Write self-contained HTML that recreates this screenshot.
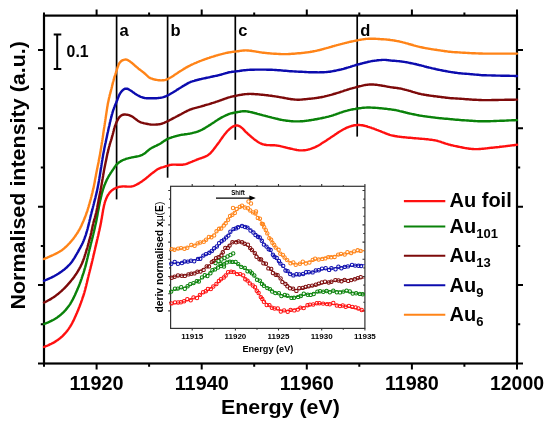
<!DOCTYPE html><html><head><meta charset="utf-8"><style>html,body{margin:0;padding:0;background:#fff;width:550px;height:422px;overflow:hidden}svg{display:block;will-change:transform}text{font-family:"Liberation Sans",sans-serif;font-weight:bold;fill:#000}</style></head><body>
<svg width="550" height="422" viewBox="0 0 550 422">
<rect x="44.0" y="15.6" width="473.0" height="347.9" fill="none" stroke="#000" stroke-width="2.2"/>
<path d="M44.0,363.5V366.7 M44.0,15.6V12.4 M96.6,363.5V369.5 M96.6,15.6V9.6 M149.1,363.5V366.7 M149.1,15.6V12.4 M201.7,363.5V369.5 M201.7,15.6V9.6 M254.2,363.5V366.7 M254.2,15.6V12.4 M306.8,363.5V369.5 M306.8,15.6V9.6 M359.3,363.5V366.7 M359.3,15.6V12.4 M411.9,363.5V369.5 M411.9,15.6V9.6 M464.4,363.5V366.7 M464.4,15.6V12.4 M517.0,363.5V369.5 M517.0,15.6V9.6 M44.0,363.5H38.0 M517.0,363.5H523.0 M44.0,324.3H40.8 M517.0,324.3H520.2 M44.0,285.1H38.0 M517.0,285.1H523.0 M44.0,245.9H40.8 M517.0,245.9H520.2 M44.0,206.7H38.0 M517.0,206.7H523.0 M44.0,167.5H40.8 M517.0,167.5H520.2 M44.0,128.3H38.0 M517.0,128.3H523.0 M44.0,89.1H40.8 M517.0,89.1H520.2 M44.0,49.9H38.0 M517.0,49.9H523.0" stroke="#000" stroke-width="2" fill="none"/>
<text x="96.6" y="389.8" font-size="19.6" text-anchor="middle" textLength="54" lengthAdjust="spacingAndGlyphs">11920</text>
<text x="201.7" y="389.8" font-size="19.6" text-anchor="middle" textLength="54" lengthAdjust="spacingAndGlyphs">11940</text>
<text x="306.8" y="389.8" font-size="19.6" text-anchor="middle" textLength="54" lengthAdjust="spacingAndGlyphs">11960</text>
<text x="411.9" y="389.8" font-size="19.6" text-anchor="middle" textLength="54" lengthAdjust="spacingAndGlyphs">11980</text>
<text x="517.0" y="389.8" font-size="19.6" text-anchor="middle" textLength="54" lengthAdjust="spacingAndGlyphs">12000</text>
<text x="280.4" y="414.2" font-size="20.6" text-anchor="middle" textLength="119" lengthAdjust="spacingAndGlyphs">Energy (eV)</text>
<text transform="translate(25.2,175.3) rotate(-90)" font-size="20.8" text-anchor="middle" textLength="268.5" lengthAdjust="spacingAndGlyphs">Normalised intensity (a.u.)</text>
<path d="M116.6,15.6V199.4" stroke="#000" stroke-width="1.7"/>
<text x="119.6" y="35.5" font-size="16.5">a</text>
<path d="M167.6,15.6V177.7" stroke="#000" stroke-width="1.7"/>
<text x="170.6" y="35.5" font-size="16.5">b</text>
<path d="M235.3,15.6V139.8" stroke="#000" stroke-width="1.7"/>
<text x="238.3" y="35.5" font-size="16.5">c</text>
<path d="M357.2,15.6V136.6" stroke="#000" stroke-width="1.7"/>
<text x="360.2" y="35.5" font-size="16.5">d</text>
<path d="M57.2,34.5V69 M53.7,34.5H61.3 M53.7,69H61.3" stroke="#000" stroke-width="2" fill="none"/>
<text x="66.6" y="57.2" font-size="17" textLength="22" lengthAdjust="spacingAndGlyphs">0.1</text>
<path d="M44.0,347.0 44.9,346.6 45.8,346.2 46.8,345.9 47.7,345.5 48.6,345.1 49.5,344.6 50.4,344.2 51.3,343.8 52.2,343.3 53.1,342.9 54.0,342.4 54.8,341.9 55.7,341.4 56.5,340.8 57.3,340.3 58.1,339.7 58.9,339.1 59.7,338.5 60.5,337.9 61.2,337.2 62.0,336.6 62.7,335.9 63.4,335.2 64.1,334.4 64.8,333.7 65.4,333.0 66.1,332.2 66.7,331.4 67.3,330.7 67.9,329.9 68.5,329.1 69.1,328.2 69.6,327.4 70.2,326.6 70.7,325.7 71.2,324.9 71.7,324.0 72.2,323.1 72.6,322.2 73.1,321.4 73.5,320.5 74.0,319.6 74.4,318.6 74.8,317.7 75.2,316.8 75.6,315.9 76.0,315.0 76.4,314.1 76.8,313.2 77.2,312.2 77.6,311.3 78.0,310.4 78.4,309.5 78.7,308.5 79.1,307.6 79.5,306.7 79.8,305.8 80.2,304.8 80.5,303.9 80.9,302.9 81.2,302.0 81.5,301.1 81.9,300.1 82.2,299.2 82.5,298.2 82.8,297.3 83.2,296.3 83.5,295.4 83.8,294.4 84.1,293.5 84.4,292.5 84.6,291.6 84.9,290.6 85.2,289.6 85.4,288.7 85.7,287.7 85.9,286.7 86.2,285.8 86.4,284.8 86.6,283.8 86.9,282.8 87.1,281.9 87.3,280.9 87.6,279.9 87.8,278.9 88.0,278.0 88.3,277.0 88.5,276.0 88.7,275.1 89.0,274.1 89.2,273.1 89.5,272.1 89.7,271.2 90.0,270.2 90.2,269.2 90.5,268.3 90.7,267.3 90.9,266.3 91.2,265.4 91.4,264.4 91.7,263.4 91.9,262.4 92.1,261.5 92.4,260.5 92.6,259.5 92.8,258.6 93.1,257.6 93.3,256.6 93.5,255.6 93.7,254.7 94.0,253.7 94.2,252.7 94.4,251.7 94.6,250.8 94.9,249.8 95.1,248.8 95.3,247.8 95.5,246.9 95.8,245.9 96.0,244.9 96.2,243.9 96.5,243.0 96.7,242.0 96.9,241.0 97.1,240.0 97.4,239.1 97.6,238.1 97.8,237.1 98.1,236.1 98.3,235.2 98.5,234.2 98.7,233.2 98.9,232.2 99.1,231.3 99.4,230.3 99.6,229.3 99.8,228.3 100.0,227.4 100.2,226.4 100.4,225.4 100.6,224.4 100.8,223.4 101.0,222.5 101.2,221.5 101.3,220.5 101.5,219.5 101.7,218.5 101.9,217.5 102.0,216.5 102.2,215.6 102.4,214.6 102.5,213.6 102.7,212.6 102.9,211.6 103.0,210.6 103.2,209.6 103.4,208.7 103.6,207.7 103.8,206.7 104.0,205.7 104.2,204.8 104.5,203.8 104.7,202.8 105.0,201.9 105.3,200.9 105.7,200.0 106.0,199.1 106.4,198.2 106.8,197.3 107.2,196.4 107.7,195.5 108.2,194.7 108.8,193.9 109.3,193.1 109.9,192.3 110.6,191.6 111.3,190.9 112.0,190.3 112.8,189.7 113.6,189.1 114.5,188.7 115.4,188.2 116.3,187.8 117.2,187.5 118.2,187.2 119.1,186.9 120.1,186.7 121.1,186.6 122.1,186.5 123.1,186.4 124.1,186.4 125.1,186.5 126.1,186.5 127.1,186.6 128.1,186.6 129.1,186.6 130.1,186.6 131.1,186.5 132.0,186.3 133.0,186.1 133.9,185.8 134.9,185.4 135.8,185.0 136.7,184.6 137.5,184.1 138.4,183.6 139.3,183.1 140.1,182.6 141.0,182.0 141.8,181.5 142.6,180.9 143.4,180.3 144.2,179.7 145.0,179.1 145.8,178.5 146.6,177.8 147.3,177.2 148.1,176.6 148.9,175.9 149.7,175.3 150.4,174.7 151.2,174.0 152.0,173.4 152.8,172.8 153.6,172.2 154.4,171.6 155.2,171.0 156.0,170.4 156.8,169.8 157.6,169.3 158.5,168.8 159.4,168.4 160.3,168.0 161.2,167.7 162.2,167.4 163.2,167.1 164.1,166.8 165.1,166.5 166.0,166.2 167.0,165.9 167.9,165.6 168.9,165.3 169.8,165.0 170.8,164.9 171.8,164.7 172.8,164.6 173.8,164.6 174.8,164.6 175.8,164.6 176.8,164.7 177.8,164.7 178.8,164.8 179.8,164.8 180.8,164.8 181.8,164.8 182.8,164.7 183.7,164.5 184.7,164.4 185.7,164.1 186.6,163.8 187.6,163.5 188.5,163.1 189.4,162.7 190.3,162.4 191.2,162.0 192.2,161.6 193.1,161.2 194.0,160.9 194.9,160.5 195.9,160.1 196.8,159.7 197.7,159.3 198.6,159.0 199.6,158.6 200.5,158.3 201.5,158.0 202.4,157.7 203.4,157.3 204.3,157.0 205.2,156.6 206.1,156.2 207.0,155.7 207.8,155.2 208.6,154.6 209.4,154.0 210.2,153.3 210.9,152.6 211.6,151.9 212.2,151.1 212.9,150.4 213.5,149.6 214.1,148.8 214.7,148.0 215.3,147.2 215.9,146.4 216.5,145.6 217.1,144.8 217.7,144.0 218.3,143.2 218.9,142.4 219.5,141.6 220.0,140.8 220.6,139.9 221.2,139.1 221.8,138.3 222.3,137.5 222.9,136.7 223.5,135.9 224.1,135.1 224.7,134.3 225.4,133.5 226.0,132.7 226.6,132.0 227.3,131.2 228.0,130.5 228.7,129.8 229.4,129.1 230.2,128.5 231.0,127.8 231.8,127.3 232.6,126.7 233.5,126.3 234.4,125.9 235.3,125.6 236.2,125.4 237.2,125.5 238.1,125.7 239.0,126.0 239.9,126.4 240.7,127.0 241.5,127.6 242.2,128.2 243.0,128.9 243.7,129.6 244.4,130.4 245.0,131.1 245.7,131.8 246.5,132.5 247.2,133.2 247.9,133.9 248.6,134.5 249.4,135.2 250.2,135.9 250.9,136.5 251.7,137.2 252.4,137.8 253.2,138.4 254.0,139.1 254.8,139.7 255.6,140.3 256.4,140.8 257.2,141.4 258.1,142.0 258.9,142.5 259.8,143.0 260.7,143.4 261.6,143.8 262.5,144.2 263.5,144.4 264.4,144.7 265.4,144.8 266.4,145.0 267.4,145.1 268.4,145.1 269.4,145.1 270.4,145.2 271.4,145.2 272.4,145.2 273.4,145.2 274.4,145.3 275.4,145.4 276.4,145.5 277.4,145.6 278.4,145.8 279.3,145.9 280.3,146.1 281.3,146.4 282.3,146.6 283.2,146.8 284.2,147.1 285.2,147.3 286.1,147.6 287.1,147.8 288.1,148.1 289.1,148.3 290.0,148.5 291.0,148.7 292.0,148.9 293.0,149.2 293.9,149.4 294.9,149.6 295.9,149.8 296.9,150.0 297.9,150.1 298.9,150.3 299.9,150.4 300.8,150.4 301.8,150.4 302.8,150.4 303.8,150.3 304.8,150.2 305.8,150.1 306.8,149.9 307.8,149.7 308.7,149.4 309.7,149.2 310.7,148.9 311.6,148.5 312.5,148.2 313.5,147.8 314.4,147.5 315.3,147.1 316.2,146.6 317.1,146.2 318.0,145.7 318.9,145.2 319.7,144.7 320.6,144.2 321.4,143.6 322.2,143.1 323.1,142.5 323.9,142.0 324.8,141.4 325.6,140.9 326.4,140.4 327.3,139.8 328.1,139.3 328.9,138.7 329.8,138.2 330.6,137.6 331.4,137.1 332.3,136.5 333.1,135.9 333.9,135.4 334.8,134.8 335.6,134.2 336.4,133.7 337.2,133.1 338.1,132.6 338.9,132.0 339.8,131.5 340.6,131.0 341.5,130.5 342.3,130.0 343.2,129.5 344.1,129.0 345.0,128.6 345.9,128.1 346.8,127.7 347.7,127.3 348.6,127.0 349.6,126.6 350.5,126.3 351.5,126.0 352.5,125.8 353.4,125.5 354.4,125.3 355.4,125.2 356.4,125.1 357.4,125.0 358.4,125.0 359.4,125.0 360.4,125.1 361.4,125.2 362.3,125.3 363.3,125.5 364.3,125.7 365.3,126.0 366.2,126.2 367.2,126.5 368.1,126.8 369.1,127.1 370.0,127.4 371.0,127.7 371.9,128.1 372.9,128.4 373.8,128.7 374.8,129.1 375.7,129.4 376.6,129.8 377.6,130.1 378.5,130.5 379.4,130.9 380.4,131.2 381.3,131.6 382.2,132.0 383.1,132.4 384.1,132.7 385.0,133.1 385.9,133.5 386.9,133.8 387.8,134.2 388.8,134.5 389.7,134.8 390.7,135.1 391.6,135.3 392.6,135.6 393.6,135.8 394.6,136.0 395.5,136.2 396.5,136.3 397.5,136.5 398.5,136.6 399.5,136.7 400.5,136.9 401.5,137.0 402.5,137.1 403.5,137.2 404.5,137.3 405.5,137.4 406.5,137.5 407.5,137.6 408.5,137.7 409.4,137.7 410.4,137.8 411.4,137.9 412.4,138.0 413.4,138.1 414.4,138.2 415.4,138.3 416.4,138.4 417.4,138.4 418.4,138.5 419.4,138.6 420.4,138.7 421.4,138.8 422.4,138.9 423.4,138.9 424.4,139.0 425.4,139.1 426.4,139.2 427.4,139.3 428.4,139.4 429.4,139.6 430.4,139.7 431.4,139.8 432.3,139.9 433.3,140.1 434.3,140.2 435.3,140.4 436.3,140.6 437.3,140.8 438.2,141.1 439.2,141.4 440.1,141.6 441.1,142.0 442.0,142.3 443.0,142.6 443.9,143.0 444.9,143.3 445.8,143.6 446.8,143.9 447.7,144.2 448.7,144.5 449.6,144.7 450.6,145.0 451.6,145.2 452.6,145.4 453.5,145.7 454.5,145.9 455.5,146.1 456.5,146.3 457.4,146.5 458.4,146.7 459.4,146.9 460.4,147.1 461.4,147.3 462.3,147.5 463.3,147.7 464.3,147.9 465.3,148.1 466.3,148.2 467.3,148.4 468.3,148.5 469.3,148.7 470.2,148.8 471.2,148.9 472.2,149.0 473.2,149.0 474.2,149.1 475.2,149.1 476.2,149.1 477.2,149.1 478.2,149.1 479.2,149.0 480.2,149.0 481.2,148.9 482.2,148.8 483.2,148.7 484.2,148.6 485.2,148.5 486.2,148.4 487.2,148.3 488.2,148.1 489.2,148.0 490.2,147.9 491.2,147.8 492.2,147.7 493.2,147.6 494.2,147.5 495.2,147.4 496.1,147.3 497.1,147.2 498.1,147.1 499.1,147.0 500.1,146.8 501.1,146.7 502.1,146.6 503.1,146.5 504.1,146.4 505.1,146.3 506.1,146.1 507.1,146.0 508.1,145.9 509.1,145.8 510.0,145.6 511.0,145.5 512.0,145.4 513.0,145.3 514.0,145.2 515.0,145.0 516.0,144.9 517.0,144.8" stroke="#ff1010" stroke-width="2.4" fill="none" stroke-linejoin="round" stroke-linecap="round"/>
<path d="M44.0,324.1 44.9,323.7 45.8,323.3 46.8,322.9 47.7,322.6 48.6,322.2 49.5,321.7 50.4,321.3 51.3,320.9 52.2,320.4 53.1,320.0 54.0,319.5 54.8,319.0 55.7,318.5 56.5,317.9 57.3,317.4 58.1,316.8 58.9,316.2 59.7,315.6 60.5,315.0 61.2,314.3 62.0,313.6 62.7,313.0 63.4,312.3 64.1,311.6 64.8,310.8 65.5,310.1 66.1,309.4 66.8,308.6 67.4,307.8 68.0,307.0 68.6,306.3 69.2,305.4 69.8,304.6 70.3,303.8 70.8,302.9 71.3,302.1 71.8,301.2 72.3,300.3 72.8,299.4 73.2,298.6 73.7,297.7 74.1,296.8 74.5,295.9 75.0,295.0 75.4,294.1 75.8,293.1 76.2,292.2 76.6,291.3 77.0,290.4 77.4,289.5 77.8,288.6 78.2,287.6 78.6,286.7 79.0,285.8 79.3,284.9 79.7,283.9 80.0,283.0 80.4,282.0 80.7,281.1 81.0,280.2 81.4,279.2 81.7,278.3 82.0,277.3 82.3,276.4 82.6,275.4 83.0,274.5 83.3,273.5 83.6,272.6 83.9,271.6 84.2,270.7 84.5,269.7 84.7,268.7 85.0,267.8 85.3,266.8 85.6,265.9 85.8,264.9 86.1,263.9 86.3,263.0 86.5,262.0 86.8,261.0 87.0,260.0 87.2,259.1 87.5,258.1 87.7,257.1 87.9,256.1 88.2,255.2 88.4,254.2 88.6,253.2 88.8,252.2 89.1,251.3 89.3,250.3 89.5,249.3 89.8,248.4 90.0,247.4 90.3,246.4 90.5,245.4 90.7,244.5 91.0,243.5 91.2,242.5 91.5,241.6 91.7,240.6 92.0,239.6 92.2,238.6 92.5,237.7 92.7,236.7 92.9,235.7 93.2,234.8 93.4,233.8 93.6,232.8 93.9,231.8 94.1,230.9 94.3,229.9 94.6,228.9 94.8,227.9 95.0,227.0 95.2,226.0 95.4,225.0 95.7,224.0 95.9,223.1 96.1,222.1 96.3,221.1 96.5,220.1 96.7,219.1 96.8,218.2 97.0,217.2 97.2,216.2 97.4,215.2 97.6,214.2 97.7,213.2 97.9,212.3 98.1,211.3 98.3,210.3 98.5,209.3 98.7,208.3 98.8,207.3 99.0,206.4 99.2,205.4 99.4,204.4 99.6,203.4 99.8,202.4 100.0,201.5 100.2,200.5 100.5,199.5 100.7,198.5 100.9,197.5 101.1,196.6 101.4,195.6 101.6,194.6 101.8,193.7 102.1,192.7 102.4,191.7 102.6,190.8 102.9,189.8 103.2,188.9 103.5,187.9 103.9,187.0 104.2,186.0 104.5,185.1 104.9,184.2 105.3,183.2 105.7,182.3 106.1,181.4 106.5,180.5 106.9,179.6 107.4,178.7 107.9,177.8 108.3,177.0 108.8,176.1 109.3,175.2 109.9,174.4 110.4,173.5 110.9,172.7 111.5,171.9 112.0,171.0 112.6,170.2 113.2,169.4 113.7,168.5 114.3,167.7 114.8,166.9 115.4,166.1 116.0,165.3 116.6,164.5 117.3,163.8 118.1,163.2 118.9,162.5 119.7,161.9 120.5,161.4 121.4,160.9 122.2,160.4 123.1,160.0 124.1,159.6 125.0,159.3 125.9,158.9 126.9,158.6 127.9,158.4 128.8,158.1 129.8,157.9 130.8,157.7 131.8,157.4 132.7,157.3 133.7,157.1 134.7,156.9 135.7,156.7 136.7,156.5 137.6,156.3 138.6,156.1 139.6,155.8 140.5,155.5 141.5,155.2 142.4,154.8 143.2,154.3 144.1,153.8 144.9,153.2 145.7,152.6 146.4,151.9 147.2,151.3 147.9,150.6 148.7,150.0 149.5,149.4 150.3,148.8 151.2,148.3 152.0,147.8 152.9,147.3 153.8,146.9 154.7,146.4 155.6,146.0 156.5,145.6 157.4,145.1 158.3,144.7 159.2,144.2 160.1,143.7 160.9,143.2 161.7,142.6 162.6,142.1 163.4,141.5 164.2,140.9 165.1,140.4 165.9,139.9 166.8,139.4 167.7,138.9 168.6,138.5 169.5,138.2 170.4,137.8 171.4,137.5 172.3,137.2 173.3,136.9 174.2,136.6 175.2,136.3 176.2,136.1 177.1,135.8 178.1,135.6 179.1,135.3 180.1,135.1 181.0,134.9 182.0,134.7 183.0,134.6 184.0,134.5 185.0,134.3 186.0,134.2 187.0,134.1 188.0,133.9 189.0,133.8 189.9,133.6 190.9,133.4 191.9,133.2 192.9,132.9 193.8,132.7 194.8,132.4 195.8,132.2 196.7,131.9 197.7,131.6 198.6,131.2 199.5,130.8 200.5,130.4 201.4,130.0 202.3,129.6 203.1,129.1 204.0,128.6 204.9,128.1 205.7,127.6 206.6,127.0 207.4,126.5 208.3,126.0 209.1,125.4 210.0,124.9 210.8,124.4 211.6,123.8 212.5,123.3 213.3,122.7 214.2,122.2 215.0,121.6 215.8,121.1 216.6,120.5 217.5,120.0 218.3,119.4 219.2,118.9 220.0,118.4 220.9,117.9 221.8,117.4 222.7,116.9 223.6,116.5 224.5,116.0 225.4,115.6 226.3,115.2 227.2,114.8 228.1,114.4 229.0,114.0 230.0,113.7 230.9,113.4 231.9,113.2 232.9,113.0 233.9,112.8 234.8,112.6 235.8,112.4 236.8,112.2 237.8,112.0 238.8,111.9 239.8,111.7 240.7,111.5 241.7,111.4 242.7,111.3 243.7,111.2 244.7,111.2 245.7,111.3 246.7,111.4 247.7,111.5 248.7,111.7 249.7,111.9 250.6,112.1 251.6,112.3 252.6,112.5 253.6,112.8 254.5,113.0 255.5,113.3 256.5,113.5 257.4,113.8 258.4,114.1 259.4,114.3 260.3,114.6 261.3,114.8 262.3,115.1 263.2,115.4 264.2,115.6 265.2,115.8 266.1,116.1 267.1,116.3 268.1,116.6 269.0,116.8 270.0,117.1 271.0,117.3 272.0,117.6 272.9,117.8 273.9,118.1 274.9,118.3 275.8,118.6 276.8,118.8 277.8,119.0 278.8,119.3 279.7,119.5 280.7,119.7 281.7,119.9 282.7,120.1 283.7,120.2 284.6,120.4 285.6,120.5 286.6,120.7 287.6,120.8 288.6,120.9 289.6,121.0 290.6,121.1 291.6,121.2 292.6,121.3 293.6,121.4 294.6,121.4 295.6,121.4 296.6,121.4 297.6,121.4 298.6,121.4 299.6,121.4 300.6,121.3 301.6,121.2 302.6,121.2 303.6,121.1 304.6,121.0 305.6,120.9 306.6,120.7 307.6,120.6 308.5,120.5 309.5,120.3 310.5,120.2 311.5,120.0 312.5,119.9 313.5,119.7 314.5,119.5 315.5,119.3 316.4,119.2 317.4,119.0 318.4,118.8 319.4,118.6 320.4,118.4 321.4,118.2 322.3,118.0 323.3,117.8 324.3,117.6 325.3,117.4 326.2,117.1 327.2,116.9 328.2,116.7 329.2,116.4 330.1,116.1 331.1,115.9 332.0,115.6 333.0,115.3 333.9,114.9 334.9,114.6 335.8,114.3 336.8,114.0 337.7,113.6 338.7,113.3 339.6,112.9 340.5,112.6 341.5,112.3 342.4,112.0 343.4,111.7 344.3,111.4 345.3,111.1 346.3,110.8 347.2,110.6 348.2,110.3 349.2,110.1 350.2,109.9 351.1,109.7 352.1,109.5 353.1,109.3 354.1,109.1 355.1,109.0 356.1,108.8 357.0,108.6 358.0,108.5 359.0,108.3 360.0,108.2 361.0,108.1 362.0,107.9 363.0,107.8 364.0,107.7 365.0,107.6 366.0,107.6 367.0,107.5 368.0,107.5 369.0,107.5 370.0,107.5 371.0,107.6 372.0,107.6 373.0,107.7 374.0,107.7 375.0,107.8 376.0,107.9 377.0,107.9 378.0,108.0 379.0,108.1 380.0,108.2 381.0,108.3 382.0,108.4 383.0,108.5 383.9,108.6 384.9,108.7 385.9,108.8 386.9,108.9 387.9,109.1 388.9,109.2 389.9,109.3 390.9,109.4 391.9,109.6 392.9,109.7 393.9,109.9 394.9,110.0 395.8,110.2 396.8,110.4 397.8,110.6 398.8,110.8 399.8,111.1 400.7,111.3 401.7,111.5 402.7,111.7 403.6,112.0 404.6,112.2 405.6,112.5 406.6,112.7 407.5,113.0 408.5,113.2 409.5,113.5 410.4,113.7 411.4,113.9 412.4,114.1 413.4,114.3 414.4,114.5 415.3,114.7 416.3,114.9 417.3,115.1 418.3,115.3 419.3,115.5 420.3,115.6 421.2,115.8 422.2,115.9 423.2,116.1 424.2,116.2 425.2,116.4 426.2,116.5 427.2,116.6 428.2,116.8 429.2,116.9 430.2,117.0 431.2,117.1 432.1,117.3 433.1,117.4 434.1,117.5 435.1,117.6 436.1,117.8 437.1,117.9 438.1,118.0 439.1,118.1 440.1,118.2 441.1,118.3 442.1,118.4 443.1,118.5 444.1,118.6 445.1,118.7 446.1,118.8 447.1,118.8 448.1,118.9 449.1,119.0 450.1,119.1 451.1,119.2 452.1,119.3 453.1,119.4 454.0,119.5 455.0,119.6 456.0,119.7 457.0,119.7 458.0,119.8 459.0,119.9 460.0,120.0 461.0,120.1 462.0,120.2 463.0,120.2 464.0,120.3 465.0,120.4 466.0,120.4 467.0,120.5 468.0,120.5 469.0,120.6 470.0,120.7 471.0,120.7 472.0,120.8 473.0,120.9 474.0,121.0 475.0,121.0 476.0,121.1 477.0,121.1 478.0,121.2 479.0,121.2 480.0,121.3 481.0,121.3 482.0,121.3 483.0,121.3 484.0,121.3 485.0,121.3 486.0,121.3 487.0,121.3 488.0,121.2 489.0,121.2 490.0,121.2 491.0,121.1 492.0,121.1 493.0,121.1 494.0,121.0 495.0,121.0 496.0,121.0 497.0,120.9 498.0,120.9 499.0,120.9 500.0,120.8 501.0,120.8 502.0,120.7 503.0,120.7 504.0,120.7 505.0,120.6 506.0,120.6 507.0,120.5 508.0,120.5 509.0,120.4 510.0,120.4 511.0,120.4 512.0,120.3 513.0,120.3 514.0,120.2 515.0,120.2 516.0,120.1 517.0,120.1" stroke="#0a820a" stroke-width="2.4" fill="none" stroke-linejoin="round" stroke-linecap="round"/>
<path d="M44.0,302.6 44.9,302.2 45.8,301.7 46.7,301.3 47.6,300.8 48.5,300.3 49.3,299.9 50.2,299.4 51.1,298.9 51.9,298.3 52.7,297.8 53.6,297.3 54.4,296.7 55.2,296.1 56.0,295.5 56.8,294.9 57.6,294.3 58.4,293.7 59.1,293.0 59.9,292.4 60.7,291.7 61.4,291.1 62.1,290.4 62.9,289.7 63.6,289.0 64.3,288.3 65.0,287.6 65.7,286.9 66.4,286.2 67.1,285.4 67.7,284.7 68.4,283.9 69.1,283.2 69.7,282.4 70.3,281.7 71.0,280.9 71.6,280.1 72.2,279.3 72.9,278.6 73.5,277.8 74.1,277.0 74.6,276.2 75.2,275.3 75.8,274.5 76.3,273.7 76.9,272.9 77.4,272.0 77.9,271.2 78.4,270.3 78.9,269.4 79.4,268.6 79.9,267.7 80.4,266.8 80.8,265.9 81.2,265.0 81.7,264.1 82.1,263.2 82.5,262.3 82.8,261.3 83.2,260.4 83.5,259.5 83.9,258.5 84.2,257.6 84.5,256.6 84.8,255.7 85.1,254.7 85.4,253.8 85.7,252.8 86.0,251.9 86.3,250.9 86.6,250.0 86.9,249.0 87.2,248.1 87.5,247.1 87.7,246.1 88.0,245.2 88.3,244.2 88.5,243.2 88.8,242.3 89.0,241.3 89.3,240.3 89.6,239.4 89.8,238.4 90.1,237.4 90.3,236.5 90.6,235.5 90.8,234.5 91.0,233.6 91.3,232.6 91.5,231.6 91.7,230.6 91.9,229.7 92.1,228.7 92.3,227.7 92.5,226.7 92.7,225.8 92.9,224.8 93.2,223.8 93.4,222.9 93.7,221.9 93.9,220.9 94.2,220.0 94.5,219.0 94.8,218.1 95.0,217.1 95.3,216.1 95.6,215.2 95.8,214.2 96.0,213.2 96.3,212.3 96.5,211.3 96.7,210.3 96.9,209.3 97.1,208.3 97.3,207.4 97.4,206.4 97.6,205.4 97.8,204.4 98.0,203.4 98.2,202.4 98.4,201.5 98.5,200.5 98.7,199.5 98.9,198.5 99.1,197.5 99.3,196.6 99.5,195.6 99.7,194.6 99.9,193.6 100.1,192.6 100.3,191.6 100.5,190.7 100.6,189.7 100.8,188.7 101.0,187.7 101.2,186.7 101.4,185.8 101.6,184.8 101.7,183.8 101.9,182.8 102.1,181.8 102.2,180.8 102.4,179.8 102.6,178.9 102.7,177.9 102.9,176.9 103.1,175.9 103.2,174.9 103.4,173.9 103.6,172.9 103.8,172.0 103.9,171.0 104.1,170.0 104.3,169.0 104.5,168.0 104.7,167.0 104.9,166.1 105.1,165.1 105.3,164.1 105.5,163.1 105.7,162.1 105.9,161.2 106.1,160.2 106.3,159.2 106.5,158.2 106.7,157.2 106.9,156.3 107.1,155.3 107.3,154.3 107.5,153.3 107.8,152.4 108.0,151.4 108.2,150.4 108.5,149.4 108.7,148.5 108.9,147.5 109.2,146.5 109.5,145.6 109.7,144.6 110.0,143.6 110.3,142.7 110.6,141.7 110.9,140.8 111.2,139.8 111.5,138.9 111.8,137.9 112.0,136.9 112.3,136.0 112.6,135.0 112.8,134.1 113.1,133.1 113.3,132.1 113.6,131.1 113.8,130.2 114.1,129.2 114.3,128.2 114.6,127.3 114.9,126.3 115.2,125.4 115.6,124.5 116.0,123.5 116.3,122.6 116.8,121.7 117.2,120.8 117.7,119.9 118.1,119.0 118.7,118.2 119.2,117.4 119.9,116.6 120.6,116.0 121.4,115.4 122.2,115.0 123.1,114.7 124.1,114.5 125.1,114.5 126.1,114.6 127.0,114.7 128.0,114.9 129.0,115.2 129.9,115.5 130.8,115.9 131.7,116.3 132.6,116.8 133.4,117.4 134.2,118.0 135.0,118.6 135.8,119.2 136.6,119.8 137.4,120.4 138.2,120.9 139.1,121.5 139.9,121.9 140.8,122.3 141.8,122.7 142.7,122.9 143.7,123.2 144.7,123.4 145.6,123.6 146.6,123.8 147.6,124.0 148.5,124.2 149.4,124.4 150.4,124.5 151.3,124.6 152.3,124.6 153.3,124.6 154.3,124.6 155.3,124.6 156.3,124.5 157.3,124.5 158.3,124.4 159.3,124.2 160.3,124.1 161.2,123.8 162.2,123.5 163.1,123.2 164.1,122.8 165.0,122.4 165.9,122.0 166.8,121.6 167.7,121.1 168.6,120.7 169.5,120.3 170.4,119.8 171.2,119.4 172.1,118.9 173.0,118.4 173.9,117.9 174.8,117.5 175.7,117.0 176.5,116.5 177.4,116.1 178.3,115.6 179.2,115.1 180.1,114.7 181.0,114.2 181.8,113.7 182.7,113.2 183.6,112.8 184.5,112.3 185.4,111.8 186.3,111.4 187.2,110.9 188.1,110.5 189.0,110.1 189.9,109.7 190.8,109.3 191.8,109.0 192.7,108.7 193.7,108.4 194.6,108.1 195.6,107.9 196.6,107.6 197.5,107.4 198.5,107.1 199.5,106.8 200.4,106.6 201.4,106.3 202.4,106.0 203.3,105.8 204.3,105.5 205.2,105.2 206.2,104.9 207.2,104.6 208.1,104.4 209.1,104.1 210.0,103.8 211.0,103.5 211.9,103.2 212.9,102.9 213.8,102.6 214.8,102.3 215.7,101.9 216.7,101.6 217.6,101.3 218.6,101.0 219.5,100.7 220.5,100.3 221.4,100.0 222.4,99.7 223.3,99.3 224.2,99.0 225.2,98.6 226.1,98.3 227.1,98.0 228.0,97.6 229.0,97.3 229.9,97.1 230.9,96.8 231.9,96.6 232.8,96.4 233.8,96.2 234.8,96.0 235.8,95.8 236.8,95.6 237.8,95.4 238.7,95.2 239.7,95.0 240.7,94.9 241.7,94.7 242.7,94.5 243.7,94.4 244.7,94.2 245.6,94.1 246.6,94.1 247.6,94.0 248.6,94.0 249.6,93.9 250.6,93.9 251.6,94.0 252.6,94.0 253.6,94.0 254.6,94.1 255.6,94.2 256.6,94.2 257.6,94.3 258.6,94.4 259.6,94.5 260.6,94.6 261.6,94.7 262.6,94.8 263.6,94.9 264.6,95.0 265.6,95.1 266.6,95.2 267.6,95.3 268.6,95.5 269.6,95.6 270.6,95.7 271.5,95.8 272.5,96.0 273.5,96.1 274.5,96.3 275.5,96.4 276.5,96.6 277.5,96.7 278.5,96.9 279.4,97.1 280.4,97.3 281.4,97.4 282.4,97.6 283.4,97.8 284.4,98.0 285.3,98.2 286.3,98.4 287.3,98.5 288.3,98.7 289.3,98.9 290.3,99.0 291.3,99.2 292.3,99.3 293.3,99.4 294.2,99.5 295.2,99.6 296.2,99.6 297.2,99.7 298.2,99.7 299.2,99.7 300.2,99.6 301.2,99.6 302.2,99.5 303.2,99.4 304.2,99.3 305.2,99.2 306.2,99.1 307.2,99.0 308.2,98.9 309.2,98.8 310.2,98.7 311.2,98.6 312.2,98.5 313.2,98.4 314.2,98.3 315.2,98.1 316.2,98.0 317.1,97.9 318.1,97.7 319.1,97.5 320.1,97.4 321.1,97.2 322.1,97.0 323.0,96.8 324.0,96.6 325.0,96.3 326.0,96.1 326.9,95.9 327.9,95.6 328.9,95.4 329.8,95.1 330.8,94.9 331.8,94.6 332.7,94.3 333.7,94.0 334.7,93.8 335.6,93.5 336.6,93.2 337.5,92.9 338.5,92.6 339.4,92.3 340.4,92.0 341.3,91.7 342.3,91.4 343.2,91.1 344.2,90.7 345.1,90.4 346.1,90.1 347.0,89.8 348.0,89.5 349.0,89.2 349.9,88.9 350.9,88.6 351.8,88.4 352.8,88.1 353.8,87.8 354.7,87.6 355.7,87.3 356.7,87.0 357.6,86.8 358.6,86.5 359.6,86.3 360.5,86.1 361.5,85.9 362.5,85.6 363.5,85.4 364.4,85.2 365.4,85.0 366.4,84.9 367.4,84.7 368.4,84.6 369.4,84.5 370.4,84.5 371.4,84.4 372.4,84.5 373.4,84.5 374.4,84.6 375.4,84.7 376.4,84.8 377.3,84.9 378.3,85.1 379.3,85.2 380.3,85.4 381.3,85.5 382.3,85.7 383.3,85.9 384.3,86.0 385.2,86.2 386.2,86.4 387.2,86.6 388.2,86.8 389.2,86.9 390.2,87.1 391.2,87.3 392.1,87.4 393.1,87.5 394.1,87.7 395.1,87.8 396.1,87.9 397.1,88.0 398.1,88.2 399.1,88.4 400.1,88.5 401.0,88.7 402.0,88.9 403.0,89.2 404.0,89.4 404.9,89.7 405.9,89.9 406.9,90.2 407.8,90.4 408.8,90.7 409.8,90.9 410.7,91.2 411.7,91.5 412.6,91.8 413.6,92.1 414.6,92.4 415.5,92.7 416.5,92.9 417.4,93.2 418.4,93.5 419.4,93.7 420.3,93.9 421.3,94.2 422.3,94.4 423.3,94.5 424.3,94.7 425.3,94.9 426.2,95.0 427.2,95.2 428.2,95.3 429.2,95.5 430.2,95.6 431.2,95.8 432.2,95.9 433.2,96.0 434.2,96.2 435.2,96.3 436.2,96.4 437.1,96.5 438.1,96.7 439.1,96.8 440.1,96.9 441.1,97.0 442.1,97.2 443.1,97.3 444.1,97.4 445.1,97.5 446.1,97.7 447.1,97.8 448.1,97.9 449.1,98.0 450.1,98.1 451.1,98.2 452.0,98.2 453.0,98.3 454.0,98.4 455.0,98.4 456.0,98.5 457.0,98.5 458.0,98.6 459.0,98.6 460.0,98.7 461.0,98.8 462.0,98.9 463.0,98.9 464.0,99.0 465.0,99.1 466.0,99.2 467.0,99.3 468.0,99.3 469.0,99.4 470.0,99.5 471.0,99.5 472.0,99.6 473.0,99.7 474.0,99.7 475.0,99.8 476.0,99.8 477.0,99.9 478.0,99.9 479.0,100.0 480.0,100.0 481.0,100.0 482.0,100.1 483.0,100.1 484.0,100.1 485.0,100.1 486.0,100.1 487.0,100.1 488.0,100.1 489.0,100.1 490.0,100.1 491.0,100.1 492.0,100.0 493.0,100.0 494.0,100.0 495.0,100.0 496.0,100.0 497.0,100.0 498.0,100.0 499.0,99.9 500.0,99.9 501.0,99.9 502.0,99.9 503.0,99.9 504.0,99.9 505.0,99.8 506.0,99.8 507.0,99.8 508.0,99.8 509.0,99.8 510.0,99.7 511.0,99.7 512.0,99.7 513.0,99.7 514.0,99.7 515.0,99.6 516.0,99.6 517.0,99.6" stroke="#7d0a0a" stroke-width="2.4" fill="none" stroke-linejoin="round" stroke-linecap="round"/>
<path d="M44.0,280.8 44.9,280.4 45.8,280.0 46.8,279.6 47.7,279.2 48.6,278.8 49.5,278.4 50.4,278.0 51.3,277.6 52.2,277.1 53.1,276.7 54.0,276.2 54.8,275.7 55.7,275.2 56.6,274.7 57.4,274.2 58.3,273.7 59.1,273.1 60.0,272.6 60.8,272.0 61.6,271.5 62.4,270.9 63.2,270.3 64.0,269.7 64.8,269.1 65.5,268.4 66.3,267.8 67.0,267.1 67.7,266.4 68.4,265.7 69.1,265.0 69.8,264.3 70.5,263.5 71.1,262.7 71.7,262.0 72.3,261.2 72.8,260.3 73.4,259.5 73.9,258.7 74.5,257.8 75.0,257.0 75.5,256.1 76.0,255.2 76.5,254.4 77.0,253.5 77.5,252.6 78.0,251.8 78.5,250.9 78.9,250.0 79.4,249.2 79.9,248.3 80.4,247.4 80.9,246.5 81.3,245.6 81.8,244.8 82.2,243.9 82.7,243.0 83.1,242.1 83.5,241.1 83.8,240.2 84.2,239.3 84.6,238.4 84.9,237.4 85.2,236.5 85.6,235.5 85.9,234.6 86.2,233.6 86.5,232.7 86.7,231.7 87.0,230.8 87.3,229.8 87.6,228.8 87.8,227.9 88.1,226.9 88.3,225.9 88.6,225.0 88.8,224.0 89.0,223.0 89.3,222.0 89.5,221.1 89.7,220.1 90.0,219.1 90.2,218.2 90.4,217.2 90.7,216.2 90.9,215.2 91.1,214.3 91.4,213.3 91.6,212.3 91.9,211.4 92.1,210.4 92.4,209.4 92.6,208.5 92.9,207.5 93.1,206.5 93.4,205.5 93.6,204.6 93.9,203.6 94.1,202.6 94.4,201.7 94.6,200.7 94.9,199.7 95.1,198.8 95.4,197.8 95.6,196.8 95.8,195.9 96.1,194.9 96.3,193.9 96.5,192.9 96.8,192.0 97.0,191.0 97.2,190.0 97.4,189.0 97.6,188.1 97.8,187.1 98.0,186.1 98.2,185.1 98.4,184.1 98.5,183.1 98.7,182.2 98.9,181.2 99.1,180.2 99.2,179.2 99.4,178.2 99.5,177.2 99.7,176.2 99.9,175.3 100.0,174.3 100.2,173.3 100.3,172.3 100.5,171.3 100.6,170.3 100.8,169.3 101.0,168.3 101.1,167.4 101.3,166.4 101.4,165.4 101.6,164.4 101.7,163.4 101.9,162.4 102.0,161.4 102.2,160.4 102.4,159.4 102.5,158.5 102.7,157.5 102.9,156.5 103.0,155.5 103.2,154.5 103.4,153.5 103.6,152.6 103.8,151.6 104.0,150.6 104.2,149.6 104.3,148.6 104.5,147.7 104.7,146.7 104.9,145.7 105.1,144.7 105.3,143.7 105.6,142.8 105.8,141.8 106.0,140.8 106.2,139.8 106.4,138.8 106.6,137.9 106.8,136.9 107.0,135.9 107.2,134.9 107.4,133.9 107.6,133.0 107.9,132.0 108.1,131.0 108.3,130.0 108.5,129.1 108.7,128.1 108.9,127.1 109.2,126.1 109.4,125.2 109.6,124.2 109.8,123.2 110.0,122.2 110.3,121.3 110.5,120.3 110.7,119.3 111.0,118.3 111.2,117.4 111.5,116.4 111.7,115.4 112.0,114.5 112.3,113.5 112.5,112.6 112.8,111.6 113.1,110.6 113.4,109.7 113.8,108.7 114.1,107.8 114.5,106.9 114.8,105.9 115.2,105.0 115.6,104.1 116.0,103.2 116.4,102.3 116.7,101.3 117.1,100.4 117.5,99.5 117.8,98.5 118.2,97.6 118.5,96.7 118.9,95.7 119.3,94.8 119.8,94.0 120.3,93.1 120.9,92.3 121.5,91.5 122.1,90.8 122.8,90.1 123.6,89.5 124.4,89.0 125.3,88.7 126.2,88.6 127.1,88.7 128.0,89.0 128.9,89.5 129.7,90.0 130.6,90.5 131.4,91.1 132.2,91.6 133.0,92.2 133.9,92.8 134.7,93.4 135.5,93.9 136.3,94.5 137.2,95.0 138.1,95.5 138.9,95.9 139.8,96.4 140.8,96.8 141.7,97.1 142.6,97.5 143.6,97.7 144.5,98.0 145.5,98.1 146.5,98.2 147.5,98.3 148.5,98.3 149.5,98.3 150.5,98.3 151.5,98.3 152.5,98.3 153.5,98.3 154.5,98.3 155.5,98.2 156.5,98.2 157.5,98.1 158.5,98.0 159.5,97.9 160.5,97.8 161.5,97.6 162.4,97.4 163.4,97.1 164.3,96.8 165.3,96.5 166.2,96.1 167.1,95.7 168.0,95.2 168.9,94.8 169.8,94.3 170.6,93.8 171.5,93.3 172.4,92.8 173.2,92.3 174.1,91.7 174.9,91.2 175.8,90.7 176.6,90.1 177.4,89.6 178.3,89.1 179.1,88.5 180.0,88.0 180.8,87.5 181.7,87.0 182.5,86.4 183.4,85.9 184.2,85.4 185.1,84.9 186.0,84.4 186.8,83.9 187.7,83.4 188.6,82.9 189.5,82.5 190.4,82.1 191.3,81.7 192.3,81.4 193.2,81.1 194.2,80.8 195.1,80.5 196.1,80.3 197.1,80.0 198.1,79.8 199.0,79.5 200.0,79.3 201.0,79.1 201.9,78.8 202.9,78.6 203.9,78.4 204.9,78.2 205.8,78.0 206.8,77.8 207.8,77.6 208.8,77.4 209.8,77.2 210.7,76.9 211.7,76.7 212.7,76.5 213.7,76.3 214.7,76.1 215.6,75.9 216.6,75.7 217.6,75.5 218.6,75.2 219.5,75.0 220.5,74.7 221.5,74.5 222.4,74.2 223.4,73.9 224.3,73.6 225.3,73.3 226.3,73.1 227.2,72.8 228.2,72.5 229.2,72.3 230.1,72.1 231.1,72.0 232.1,71.8 233.1,71.7 234.1,71.6 235.1,71.5 236.1,71.4 237.1,71.2 238.1,71.1 239.1,71.0 240.0,70.8 241.0,70.7 242.0,70.5 243.0,70.4 244.0,70.3 245.0,70.2 246.0,70.1 247.0,70.0 248.0,69.9 249.0,69.9 250.0,69.8 251.0,69.8 252.0,69.7 253.0,69.7 254.0,69.7 255.0,69.6 256.0,69.6 257.0,69.6 258.0,69.6 259.0,69.6 260.0,69.6 261.0,69.6 262.0,69.6 263.0,69.6 264.0,69.6 265.0,69.6 266.0,69.6 267.0,69.7 268.0,69.7 269.0,69.7 270.0,69.7 271.0,69.8 272.0,69.8 273.0,69.9 274.0,69.9 275.0,70.0 276.0,70.0 277.0,70.1 278.0,70.2 279.0,70.2 280.0,70.3 281.0,70.4 282.0,70.5 283.0,70.6 284.0,70.7 284.9,70.8 285.9,70.8 286.9,70.9 287.9,71.0 288.9,71.1 289.9,71.2 290.9,71.2 291.9,71.3 292.9,71.4 293.9,71.4 294.9,71.5 295.9,71.5 296.9,71.6 297.9,71.6 298.9,71.7 299.9,71.7 300.9,71.8 301.9,71.8 302.9,71.9 303.9,71.9 304.9,72.0 305.9,72.0 306.9,72.1 307.9,72.1 308.9,72.2 309.9,72.2 310.9,72.2 311.9,72.3 312.9,72.3 313.9,72.3 314.9,72.3 315.9,72.3 316.9,72.3 317.9,72.4 318.9,72.4 319.9,72.3 320.9,72.3 321.9,72.3 322.9,72.3 323.9,72.2 324.9,72.1 325.9,72.1 326.9,72.0 327.9,71.9 328.9,71.8 329.9,71.7 330.9,71.5 331.9,71.4 332.8,71.2 333.8,71.0 334.8,70.8 335.8,70.7 336.8,70.4 337.7,70.2 338.7,70.0 339.7,69.8 340.7,69.6 341.6,69.3 342.6,69.1 343.6,68.8 344.5,68.5 345.5,68.3 346.4,68.0 347.4,67.7 348.4,67.4 349.3,67.1 350.3,66.8 351.2,66.5 352.2,66.2 353.1,65.9 354.1,65.6 355.0,65.3 356.0,65.0 357.0,64.7 357.9,64.5 358.9,64.2 359.9,64.0 360.8,63.7 361.8,63.5 362.8,63.2 363.7,63.0 364.7,62.7 365.7,62.5 366.6,62.3 367.6,62.0 368.6,61.8 369.6,61.6 370.6,61.4 371.5,61.2 372.5,61.0 373.5,60.9 374.5,60.7 375.5,60.6 376.5,60.5 377.5,60.3 378.5,60.2 379.5,60.1 380.5,60.1 381.5,60.0 382.5,59.9 383.5,59.9 384.4,59.9 385.4,59.9 386.4,60.0 387.4,60.1 388.4,60.2 389.4,60.4 390.4,60.5 391.4,60.6 392.4,60.7 393.4,60.8 394.4,60.8 395.4,60.9 396.4,61.0 397.4,61.1 398.4,61.1 399.4,61.2 400.3,61.4 401.3,61.5 402.3,61.6 403.3,61.8 404.3,61.9 405.3,62.1 406.3,62.2 407.3,62.4 408.3,62.6 409.2,62.8 410.2,63.0 411.2,63.2 412.2,63.4 413.2,63.6 414.1,63.8 415.1,64.0 416.1,64.2 417.0,64.5 418.0,64.7 419.0,65.0 420.0,65.2 420.9,65.4 421.9,65.7 422.9,65.9 423.8,66.2 424.8,66.5 425.8,66.7 426.7,67.0 427.7,67.2 428.7,67.5 429.6,67.7 430.6,67.9 431.6,68.2 432.6,68.4 433.5,68.6 434.5,68.8 435.5,69.0 436.5,69.3 437.4,69.5 438.4,69.7 439.4,69.9 440.4,70.1 441.4,70.3 442.3,70.5 443.3,70.7 444.3,70.9 445.3,71.0 446.3,71.2 447.3,71.4 448.2,71.6 449.2,71.8 450.2,71.9 451.2,72.1 452.2,72.2 453.2,72.4 454.2,72.5 455.2,72.7 456.1,72.8 457.1,72.9 458.1,73.1 459.1,73.2 460.1,73.3 461.1,73.4 462.1,73.5 463.1,73.6 464.1,73.6 465.1,73.7 466.1,73.8 467.1,73.9 468.1,73.9 469.1,74.0 470.1,74.1 471.1,74.2 472.1,74.3 473.1,74.4 474.1,74.5 475.1,74.6 476.1,74.6 477.1,74.7 478.1,74.8 479.0,74.9 480.0,75.0 481.0,75.1 482.0,75.2 483.0,75.2 484.0,75.3 485.0,75.3 486.0,75.3 487.0,75.4 488.0,75.4 489.0,75.4 490.0,75.4 491.0,75.4 492.0,75.5 493.0,75.5 494.0,75.5 495.0,75.5 496.0,75.6 497.0,75.6 498.0,75.6 499.0,75.6 500.0,75.6 501.0,75.7 502.0,75.7 503.0,75.7 504.0,75.7 505.0,75.7 506.0,75.8 507.0,75.8 508.0,75.8 509.0,75.8 510.0,75.9 511.0,75.9 512.0,75.9 513.0,75.9 514.0,75.9 515.0,76.0 516.0,76.0 517.0,76.0" stroke="#0c0cae" stroke-width="2.4" fill="none" stroke-linejoin="round" stroke-linecap="round"/>
<path d="M44.0,259.0 44.9,258.6 45.8,258.2 46.8,257.8 47.7,257.4 48.6,257.0 49.5,256.6 50.4,256.2 51.3,255.8 52.2,255.4 53.1,255.0 54.1,254.5 55.0,254.1 55.9,253.7 56.7,253.2 57.6,252.8 58.5,252.3 59.4,251.8 60.2,251.3 61.0,250.8 61.9,250.2 62.6,249.6 63.4,249.0 64.2,248.4 64.9,247.7 65.7,247.0 66.4,246.4 67.1,245.7 67.8,245.0 68.5,244.2 69.2,243.5 69.9,242.8 70.5,242.0 71.2,241.3 71.8,240.5 72.5,239.7 73.1,239.0 73.7,238.2 74.3,237.4 74.9,236.6 75.5,235.8 76.0,234.9 76.6,234.1 77.2,233.3 77.7,232.4 78.2,231.6 78.7,230.7 79.2,229.9 79.7,229.0 80.2,228.1 80.6,227.2 81.1,226.3 81.5,225.4 81.9,224.5 82.3,223.6 82.7,222.7 83.1,221.8 83.5,220.9 83.9,219.9 84.3,219.0 84.7,218.1 85.0,217.2 85.4,216.2 85.7,215.3 86.1,214.4 86.4,213.4 86.7,212.5 87.1,211.5 87.4,210.6 87.7,209.6 88.0,208.7 88.3,207.7 88.6,206.8 88.8,205.8 89.1,204.8 89.4,203.9 89.7,202.9 90.0,202.0 90.2,201.0 90.5,200.0 90.8,199.1 91.0,198.1 91.3,197.1 91.5,196.2 91.8,195.2 92.0,194.2 92.2,193.3 92.5,192.3 92.7,191.3 92.9,190.3 93.1,189.4 93.4,188.4 93.6,187.4 93.8,186.4 94.0,185.4 94.2,184.5 94.4,183.5 94.6,182.5 94.8,181.5 94.9,180.5 95.1,179.6 95.3,178.6 95.5,177.6 95.7,176.6 95.9,175.6 96.0,174.6 96.2,173.7 96.4,172.7 96.6,171.7 96.8,170.7 97.0,169.7 97.2,168.7 97.4,167.8 97.6,166.8 97.8,165.8 98.0,164.8 98.2,163.8 98.4,162.9 98.6,161.9 98.7,160.9 98.9,159.9 99.1,158.9 99.3,158.0 99.5,157.0 99.7,156.0 99.9,155.0 100.1,154.0 100.2,153.0 100.4,152.1 100.6,151.1 100.7,150.1 100.9,149.1 101.1,148.1 101.2,147.1 101.4,146.1 101.5,145.1 101.7,144.2 101.8,143.2 102.0,142.2 102.2,141.2 102.3,140.2 102.5,139.2 102.6,138.2 102.8,137.2 102.9,136.3 103.1,135.3 103.2,134.3 103.3,133.3 103.5,132.3 103.6,131.3 103.8,130.3 103.9,129.3 104.1,128.3 104.2,127.4 104.4,126.4 104.5,125.4 104.7,124.4 104.8,123.4 105.0,122.4 105.1,121.4 105.3,120.4 105.4,119.4 105.6,118.4 105.7,117.5 105.9,116.5 106.0,115.5 106.2,114.5 106.3,113.5 106.5,112.5 106.6,111.5 106.8,110.5 106.9,109.5 107.1,108.6 107.2,107.6 107.4,106.6 107.6,105.6 107.7,104.6 107.9,103.6 108.1,102.6 108.3,101.7 108.5,100.7 108.7,99.7 108.9,98.7 109.1,97.8 109.4,96.8 109.6,95.8 109.8,94.8 110.1,93.9 110.4,92.9 110.6,91.9 110.9,91.0 111.1,90.0 111.4,89.0 111.6,88.1 111.9,87.1 112.1,86.1 112.3,85.2 112.6,84.2 112.8,83.2 113.0,82.2 113.3,81.3 113.6,80.3 113.8,79.3 114.1,78.4 114.4,77.4 114.7,76.5 115.0,75.5 115.3,74.6 115.6,73.6 115.9,72.7 116.2,71.7 116.5,70.8 116.8,69.8 117.1,68.9 117.4,67.9 117.7,67.0 118.1,66.0 118.4,65.1 118.8,64.2 119.3,63.3 119.9,62.5 120.5,61.8 121.2,61.1 122.0,60.6 122.9,60.1 123.8,59.8 124.7,59.6 125.7,59.5 126.6,59.7 127.5,60.0 128.4,60.4 129.2,60.9 130.0,61.5 130.8,62.1 131.6,62.7 132.4,63.3 133.1,64.0 133.9,64.7 134.6,65.3 135.4,66.0 136.1,66.6 136.9,67.3 137.7,67.9 138.4,68.6 139.2,69.2 140.0,69.8 140.8,70.4 141.6,71.0 142.4,71.6 143.2,72.2 144.0,72.9 144.7,73.5 145.5,74.2 146.2,74.8 146.9,75.5 147.6,76.2 148.4,76.9 149.2,77.4 150.0,77.9 150.9,78.4 151.9,78.7 152.8,79.0 153.8,79.3 154.7,79.5 155.7,79.8 156.7,79.9 157.7,80.1 158.7,80.2 159.7,80.3 160.6,80.4 161.6,80.4 162.6,80.3 163.6,80.2 164.6,80.1 165.6,79.8 166.5,79.5 167.4,79.2 168.3,78.7 169.2,78.3 170.1,77.8 171.0,77.3 171.8,76.8 172.7,76.2 173.5,75.7 174.3,75.1 175.1,74.6 176.0,74.0 176.8,73.4 177.6,72.9 178.5,72.3 179.3,71.8 180.1,71.2 181.0,70.7 181.8,70.2 182.7,69.7 183.5,69.1 184.4,68.6 185.3,68.1 186.1,67.6 187.0,67.1 187.9,66.6 188.8,66.2 189.6,65.7 190.5,65.3 191.4,64.8 192.3,64.4 193.2,64.0 194.2,63.5 195.1,63.1 196.0,62.8 196.9,62.4 197.8,62.0 198.8,61.6 199.7,61.2 200.6,60.9 201.6,60.5 202.5,60.1 203.4,59.8 204.4,59.5 205.3,59.1 206.2,58.8 207.2,58.5 208.1,58.1 209.1,57.8 210.0,57.5 211.0,57.2 211.9,56.9 212.9,56.6 213.8,56.3 214.8,56.0 215.8,55.7 216.7,55.4 217.7,55.2 218.6,54.9 219.6,54.6 220.6,54.4 221.5,54.1 222.5,53.9 223.5,53.6 224.5,53.4 225.4,53.2 226.4,52.9 227.4,52.7 228.4,52.5 229.4,52.4 230.3,52.2 231.3,52.1 232.3,51.9 233.3,51.8 234.3,51.7 235.3,51.6 236.3,51.4 237.3,51.3 238.3,51.2 239.3,51.0 240.2,50.9 241.2,50.7 242.2,50.6 243.2,50.5 244.2,50.5 245.2,50.4 246.2,50.4 247.2,50.5 248.2,50.5 249.2,50.6 250.2,50.7 251.2,50.8 252.2,51.0 253.2,51.1 254.2,51.3 255.1,51.4 256.1,51.6 257.1,51.8 258.1,51.9 259.1,52.1 260.1,52.3 261.1,52.4 262.1,52.6 263.0,52.7 264.0,52.8 265.0,52.9 266.0,53.0 267.0,53.1 268.0,53.2 269.0,53.3 270.0,53.4 271.0,53.5 272.0,53.6 273.0,53.6 274.0,53.7 275.0,53.8 276.0,53.8 277.0,53.9 278.0,53.9 279.0,54.0 280.0,54.0 281.0,54.1 282.0,54.1 283.0,54.1 284.0,54.1 285.0,54.1 286.0,54.1 287.0,54.1 288.0,54.1 289.0,54.0 290.0,54.0 291.0,53.9 292.0,53.8 293.0,53.8 294.0,53.7 295.0,53.6 296.0,53.5 297.0,53.4 298.0,53.3 299.0,53.2 300.0,53.2 301.0,53.1 301.9,53.0 302.9,52.9 303.9,52.8 304.9,52.6 305.9,52.5 306.9,52.4 307.9,52.3 308.9,52.1 309.9,52.0 310.9,51.8 311.9,51.7 312.8,51.5 313.8,51.3 314.8,51.1 315.8,50.9 316.8,50.7 317.7,50.4 318.7,50.2 319.7,50.0 320.6,49.7 321.6,49.5 322.6,49.2 323.5,49.0 324.5,48.7 325.5,48.4 326.4,48.2 327.4,47.9 328.4,47.6 329.3,47.3 330.3,47.1 331.2,46.8 332.2,46.5 333.2,46.2 334.1,46.0 335.1,45.7 336.1,45.4 337.0,45.1 338.0,44.9 339.0,44.6 339.9,44.4 340.9,44.1 341.9,43.9 342.8,43.6 343.8,43.4 344.8,43.1 345.7,42.9 346.7,42.7 347.7,42.4 348.7,42.2 349.6,41.9 350.6,41.7 351.6,41.5 352.5,41.3 353.5,41.1 354.5,40.9 355.5,40.7 356.5,40.5 357.4,40.3 358.4,40.1 359.4,39.9 360.4,39.7 361.4,39.6 362.4,39.4 363.4,39.3 364.4,39.1 365.3,39.0 366.3,38.9 367.3,38.9 368.3,38.8 369.3,38.7 370.3,38.7 371.3,38.7 372.3,38.7 373.3,38.7 374.3,38.8 375.3,38.8 376.3,38.9 377.3,38.9 378.3,39.0 379.3,39.0 380.3,39.1 381.3,39.2 382.3,39.2 383.3,39.3 384.3,39.4 385.3,39.4 386.3,39.5 387.3,39.6 388.3,39.7 389.3,39.8 390.3,40.0 391.3,40.1 392.3,40.2 393.3,40.4 394.2,40.5 395.2,40.7 396.2,40.9 397.2,41.1 398.2,41.2 399.2,41.4 400.1,41.7 401.1,41.9 402.1,42.1 403.0,42.4 404.0,42.6 405.0,42.9 405.9,43.2 406.9,43.4 407.9,43.7 408.8,44.0 409.8,44.2 410.8,44.5 411.7,44.8 412.7,45.0 413.6,45.3 414.6,45.6 415.6,45.9 416.5,46.1 417.5,46.4 418.5,46.6 419.4,46.8 420.4,47.1 421.4,47.3 422.4,47.5 423.4,47.7 424.3,47.9 425.3,48.1 426.3,48.3 427.3,48.4 428.3,48.6 429.3,48.8 430.2,48.9 431.2,49.1 432.2,49.3 433.2,49.4 434.2,49.6 435.2,49.7 436.2,49.8 437.2,50.0 438.2,50.1 439.1,50.3 440.1,50.4 441.1,50.6 442.1,50.7 443.1,50.9 444.1,51.0 445.1,51.2 446.1,51.3 447.1,51.4 448.1,51.6 449.0,51.7 450.0,51.8 451.0,51.9 452.0,52.0 453.0,52.1 454.0,52.1 455.0,52.2 456.0,52.3 457.0,52.3 458.0,52.4 459.0,52.4 460.0,52.5 461.0,52.6 462.0,52.6 463.0,52.7 464.0,52.7 465.0,52.8 466.0,52.9 467.0,52.9 468.0,53.0 469.0,53.0 470.0,53.1 471.0,53.1 472.0,53.2 473.0,53.2 474.0,53.3 475.0,53.3 476.0,53.4 477.0,53.4 478.0,53.4 479.0,53.5 480.0,53.5 481.0,53.5 482.0,53.5 483.0,53.6 484.0,53.6 485.0,53.6 486.0,53.6 487.0,53.6 488.0,53.6 489.0,53.6 490.0,53.6 491.0,53.6 492.0,53.6 493.0,53.6 494.0,53.6 495.0,53.6 496.0,53.6 497.0,53.6 498.0,53.6 499.0,53.6 500.0,53.6 501.0,53.6 502.0,53.6 503.0,53.6 504.0,53.6 505.0,53.6 506.0,53.6 507.0,53.6 508.0,53.6 509.0,53.6 510.0,53.6 511.0,53.6 512.0,53.6 513.0,53.6 514.0,53.6 515.0,53.6 516.0,53.6 517.0,53.6" stroke="#ff8418" stroke-width="2.4" fill="none" stroke-linejoin="round" stroke-linecap="round"/>
<rect x="170.6" y="186.3" width="194.3" height="142.1" fill="#fff" stroke="none"/>
<path d="M192.2,328.4V330.6 M192.2,186.3V184.1 M213.8,328.4V329.8 M213.8,186.3V184.9 M235.4,328.4V330.6 M235.4,186.3V184.1 M257.0,328.4V329.8 M257.0,186.3V184.9 M278.5,328.4V330.6 M278.5,186.3V184.1 M300.1,328.4V329.8 M300.1,186.3V184.9 M321.7,328.4V330.6 M321.7,186.3V184.1 M343.3,328.4V329.8 M343.3,186.3V184.9 M364.9,328.4V330.6 M364.9,186.3V184.1 M170.6,310.9H168.2 M364.9,310.9H362.5 M170.6,302.3H169.0 M364.9,302.3H363.3 M170.6,293.7H168.2 M364.9,293.7H362.5 M170.6,285.1H169.0 M364.9,285.1H363.3 M170.6,276.5H168.2 M364.9,276.5H362.5 M170.6,267.9H169.0 M364.9,267.9H363.3 M170.6,259.3H168.2 M364.9,259.3H362.5 M170.6,250.7H169.0 M364.9,250.7H363.3 M170.6,242.1H168.2 M364.9,242.1H362.5 M170.6,233.5H169.0 M364.9,233.5H363.3 M170.6,224.9H168.2 M364.9,224.9H362.5 M170.6,216.3H169.0 M364.9,216.3H363.3 M170.6,207.7H168.2 M364.9,207.7H362.5 M170.6,199.1H169.0 M364.9,199.1H363.3 M170.6,190.5H168.2 M364.9,190.5H362.5" stroke="#333" stroke-width="1.1" fill="none"/>
<rect x="170.6" y="186.3" width="194.3" height="142.1" fill="none" stroke="#333" stroke-width="1.2"/>
<text x="192.2" y="339.1" font-size="7.9" text-anchor="middle" textLength="21.8" lengthAdjust="spacingAndGlyphs">11915</text>
<text x="235.4" y="339.1" font-size="7.9" text-anchor="middle" textLength="21.8" lengthAdjust="spacingAndGlyphs">11920</text>
<text x="278.5" y="339.1" font-size="7.9" text-anchor="middle" textLength="21.8" lengthAdjust="spacingAndGlyphs">11925</text>
<text x="321.7" y="339.1" font-size="7.9" text-anchor="middle" textLength="21.8" lengthAdjust="spacingAndGlyphs">11930</text>
<text x="364.9" y="339.1" font-size="7.9" text-anchor="middle" textLength="21.8" lengthAdjust="spacingAndGlyphs">11935</text>
<text x="267.9" y="351.8" font-size="9.1" text-anchor="middle" textLength="51" lengthAdjust="spacingAndGlyphs">Energy (eV)</text>
<text transform="translate(162.6,257.1) rotate(-90)" font-size="11" text-anchor="middle" textLength="111" lengthAdjust="spacingAndGlyphs">deriv normalised x<tspan font-weight="normal">&#956;(</tspan>E<tspan font-weight="normal">)</tspan></text>
<text x="238" y="195.4" font-size="6.6" text-anchor="middle" textLength="13.6" lengthAdjust="spacingAndGlyphs">Shift</text>
<path d="M216,198.1H251" stroke="#000" stroke-width="1.1"/><path d="M255.8,198.1L249.3,195.5V200.7Z" fill="#000"/>
<path d="M170.7,304.6 171.7,304.4 172.7,304.1 173.6,303.9 174.6,303.7 175.6,303.5 176.6,303.3 177.5,303.0 178.5,302.8 179.5,302.6 180.5,302.3 181.4,302.1 182.4,301.9 183.4,301.6 184.3,301.4 185.3,301.1 186.3,300.8 187.2,300.6 188.2,300.3 189.1,300.0 190.1,299.6 191.0,299.3 192.0,298.9 192.9,298.5 193.8,298.2 194.7,297.7 195.6,297.3 196.5,296.9 197.4,296.4 198.3,296.0 199.2,295.5 200.1,295.0 200.9,294.5 201.8,294.0 202.7,293.5 203.5,293.0 204.4,292.5 205.2,292.0 206.1,291.4 206.9,290.9 207.8,290.3 208.6,289.8 209.4,289.2 210.3,288.7 211.1,288.1 211.9,287.5 212.7,287.0 213.5,286.4 214.3,285.8 215.1,285.2 215.9,284.6 216.7,284.0 217.5,283.3 218.3,282.7 219.1,282.1 219.8,281.4 220.5,280.7 221.3,280.0 222.0,279.3 222.7,278.6 223.4,277.9 224.1,277.2 224.7,276.4 225.4,275.7 226.1,275.0 226.8,274.3 227.5,273.6 228.3,272.9 229.0,272.4 229.8,271.9 230.7,271.6 231.6,271.6 232.5,271.6 233.5,271.8 234.4,272.1 235.4,272.4 236.3,272.8 237.2,273.2 238.1,273.7 239.0,274.2 239.9,274.7 240.7,275.2 241.5,275.7 242.4,276.3 243.2,276.9 244.0,277.5 244.8,278.1 245.6,278.7 246.3,279.3 247.1,280.0 247.8,280.6 248.6,281.3 249.3,282.0 250.0,282.7 250.7,283.4 251.4,284.1 252.1,284.9 252.8,285.6 253.4,286.4 254.0,287.2 254.7,287.9 255.3,288.7 255.9,289.5 256.5,290.3 257.1,291.1 257.7,292.0 258.2,292.8 258.8,293.6 259.4,294.4 260.0,295.2 260.6,296.0 261.1,296.8 261.7,297.7 262.3,298.5 262.9,299.3 263.5,300.0 264.2,300.8 264.8,301.6 265.5,302.3 266.2,303.1 266.9,303.8 267.6,304.4 268.4,305.0 269.2,305.6 270.0,306.2 270.9,306.7 271.8,307.2 272.7,307.6 273.6,308.0 274.5,308.4 275.5,308.7 276.4,309.0 277.4,309.4 278.3,309.7 279.2,310.0 280.2,310.3 281.1,310.6 282.1,310.8 283.1,310.9 284.1,311.0 285.1,311.0 286.1,310.9 287.0,310.8 288.0,310.6 289.0,310.5 290.0,310.3 291.0,310.1 292.0,309.8 292.9,309.6 293.9,309.4 294.9,309.2 295.9,308.9 296.8,308.7 297.8,308.5 298.8,308.2 299.8,308.0 300.7,307.8 301.7,307.6 302.7,307.3 303.6,307.1 304.6,306.8 305.6,306.6 306.6,306.3 307.5,306.1 308.5,305.8 309.5,305.6 310.4,305.3 311.4,305.0 312.4,304.8 313.3,304.6 314.3,304.4 315.3,304.2 316.3,304.0 317.3,303.8 318.3,303.7 319.3,303.6 320.2,303.5 321.2,303.5 322.2,303.4 323.2,303.4 324.2,303.5 325.2,303.5 326.2,303.5 327.2,303.6 328.2,303.7 329.2,303.8 330.2,303.9 331.2,304.0 332.2,304.1 333.2,304.3 334.2,304.4 335.2,304.5 336.2,304.7 337.2,304.9 338.2,305.0 339.2,305.2 340.1,305.3 341.1,305.5 342.1,305.7 343.1,305.9 344.1,306.0 345.1,306.2 346.1,306.4 347.0,306.6 348.0,306.8 349.0,307.0 350.0,307.2 350.9,307.4 351.9,307.7 352.9,307.9 353.9,308.2 354.8,308.4 355.8,308.7 356.8,308.9 357.7,309.2 358.7,309.4 359.7,309.7 360.6,310.0 361.6,310.2 362.6,310.5 363.5,310.7 364.5,311.0" stroke="#ff1010" stroke-width="1" fill="none"/>
<g fill="none" stroke="#ff1010" stroke-width="1.05"><circle cx="171.5" cy="303.4" r="1.7"/><circle cx="175.0" cy="302.4" r="1.7"/><circle cx="178.1" cy="302.5" r="1.7"/><circle cx="180.9" cy="302.2" r="1.7"/><circle cx="184.1" cy="301.2" r="1.7"/><circle cx="187.3" cy="299.3" r="1.7"/><circle cx="190.7" cy="300.3" r="1.7"/><circle cx="193.5" cy="297.4" r="1.7"/><circle cx="197.0" cy="298.0" r="1.7"/><circle cx="199.9" cy="294.9" r="1.7"/><circle cx="203.1" cy="292.3" r="1.7"/><circle cx="205.8" cy="291.2" r="1.7"/><circle cx="207.9" cy="289.0" r="1.7"/><circle cx="210.8" cy="289.1" r="1.7"/><circle cx="213.3" cy="286.5" r="1.7"/><circle cx="216.4" cy="284.0" r="1.7"/><circle cx="218.9" cy="281.0" r="1.7"/><circle cx="220.9" cy="279.2" r="1.7"/><circle cx="223.8" cy="277.5" r="1.7"/><circle cx="225.7" cy="275.5" r="1.7"/><circle cx="228.1" cy="272.3" r="1.7"/><circle cx="231.1" cy="271.7" r="1.7"/><circle cx="233.8" cy="272.1" r="1.7"/><circle cx="237.1" cy="274.1" r="1.7"/><circle cx="240.2" cy="274.1" r="1.7"/><circle cx="243.2" cy="275.4" r="1.7"/><circle cx="245.3" cy="279.2" r="1.7"/><circle cx="247.5" cy="280.6" r="1.7"/><circle cx="249.8" cy="283.4" r="1.7"/><circle cx="252.8" cy="285.5" r="1.7"/><circle cx="255.0" cy="287.3" r="1.7"/><circle cx="256.8" cy="290.7" r="1.7"/><circle cx="258.6" cy="293.0" r="1.7"/><circle cx="260.8" cy="297.1" r="1.7"/><circle cx="262.3" cy="299.0" r="1.7"/><circle cx="263.9" cy="301.7" r="1.7"/><circle cx="266.7" cy="305.0" r="1.7"/><circle cx="269.4" cy="305.1" r="1.7"/><circle cx="271.9" cy="307.8" r="1.7"/><circle cx="274.6" cy="308.5" r="1.7"/><circle cx="277.8" cy="308.5" r="1.7"/><circle cx="280.8" cy="311.5" r="1.7"/><circle cx="284.1" cy="310.4" r="1.7"/><circle cx="287.7" cy="311.8" r="1.7"/><circle cx="290.6" cy="309.9" r="1.7"/><circle cx="294.3" cy="310.4" r="1.7"/><circle cx="297.8" cy="309.6" r="1.7"/><circle cx="300.4" cy="307.6" r="1.7"/><circle cx="303.7" cy="308.1" r="1.7"/><circle cx="307.5" cy="305.2" r="1.7"/><circle cx="309.9" cy="304.6" r="1.7"/><circle cx="313.2" cy="304.5" r="1.7"/><circle cx="316.8" cy="303.2" r="1.7"/><circle cx="319.4" cy="303.3" r="1.7"/><circle cx="323.1" cy="303.6" r="1.7"/><circle cx="327.0" cy="304.1" r="1.7"/><circle cx="329.8" cy="304.2" r="1.7"/><circle cx="333.3" cy="303.0" r="1.7"/><circle cx="336.8" cy="305.5" r="1.7"/><circle cx="340.0" cy="306.1" r="1.7"/><circle cx="342.8" cy="305.5" r="1.7"/><circle cx="345.7" cy="306.8" r="1.7"/><circle cx="348.9" cy="305.9" r="1.7"/><circle cx="352.3" cy="306.9" r="1.7"/><circle cx="355.6" cy="307.4" r="1.7"/><circle cx="358.4" cy="308.5" r="1.7"/><circle cx="361.7" cy="310.0" r="1.7"/></g>
<path d="M170.7,290.8 171.7,290.6 172.6,290.3 173.6,290.1 174.6,289.9 175.6,289.6 176.6,289.4 177.5,289.2 178.5,288.9 179.5,288.7 180.5,288.4 181.4,288.2 182.4,287.9 183.4,287.6 184.3,287.4 185.3,287.1 186.2,286.8 187.2,286.5 188.1,286.2 189.1,285.8 190.0,285.4 190.9,285.0 191.8,284.6 192.7,284.2 193.6,283.7 194.5,283.2 195.4,282.7 196.2,282.2 197.1,281.7 197.9,281.1 198.8,280.6 199.6,280.0 200.4,279.5 201.3,278.9 202.1,278.3 202.9,277.8 203.8,277.2 204.6,276.6 205.4,276.1 206.2,275.5 207.0,274.9 207.8,274.3 208.6,273.7 209.4,273.1 210.2,272.5 211.0,271.9 211.8,271.2 212.6,270.6 213.4,270.0 214.2,269.4 215.0,268.8 215.8,268.2 216.7,267.6 217.5,267.1 218.3,266.5 219.1,265.9 219.9,265.3 220.8,264.8 221.6,264.2 222.5,263.7 223.3,263.2 224.2,262.7 225.1,262.3 226.0,261.9 226.9,261.5 227.9,261.3 228.8,261.2 229.8,261.2 230.7,261.3 231.7,261.6 232.6,261.9 233.6,262.3 234.5,262.6 235.4,263.1 236.3,263.5 237.2,264.0 238.1,264.4 239.0,264.9 239.8,265.4 240.7,265.9 241.6,266.4 242.4,266.9 243.3,267.4 244.2,268.0 245.0,268.5 245.8,269.1 246.7,269.6 247.5,270.2 248.3,270.8 249.1,271.4 249.9,272.0 250.6,272.7 251.4,273.3 252.2,274.0 252.9,274.7 253.6,275.4 254.4,276.0 255.1,276.7 255.8,277.4 256.6,278.1 257.3,278.8 258.0,279.5 258.8,280.1 259.5,280.8 260.2,281.5 261.0,282.2 261.7,282.9 262.4,283.6 263.2,284.2 263.9,284.9 264.7,285.6 265.5,286.2 266.3,286.8 267.1,287.4 267.9,288.0 268.7,288.5 269.6,289.0 270.4,289.6 271.3,290.0 272.2,290.5 273.1,291.0 274.0,291.5 274.9,291.9 275.8,292.4 276.7,292.8 277.6,293.2 278.5,293.6 279.4,294.0 280.3,294.4 281.3,294.8 282.2,295.1 283.2,295.4 284.1,295.8 285.1,296.0 286.1,296.3 287.0,296.5 288.0,296.7 289.0,296.8 290.0,296.9 291.0,297.0 292.0,297.0 293.0,296.9 294.0,296.9 295.0,296.8 296.0,296.7 297.0,296.5 298.0,296.4 299.0,296.2 299.9,296.0 300.9,295.8 301.9,295.6 302.9,295.4 303.9,295.2 304.9,295.0 305.8,294.8 306.8,294.5 307.8,294.3 308.8,294.1 309.7,293.9 310.7,293.7 311.7,293.5 312.7,293.2 313.7,293.0 314.7,292.8 315.6,292.7 316.6,292.5 317.6,292.3 318.6,292.2 319.6,292.0 320.6,291.9 321.6,291.8 322.6,291.6 323.6,291.5 324.6,291.4 325.6,291.3 326.6,291.2 327.6,291.2 328.6,291.1 329.6,291.1 330.6,291.0 331.6,291.0 332.6,291.0 333.6,291.0 334.6,291.0 335.6,291.0 336.6,291.1 337.6,291.1 338.6,291.2 339.6,291.2 340.6,291.3 341.6,291.4 342.6,291.5 343.6,291.6 344.6,291.7 345.6,291.8 346.6,291.9 347.6,292.1 348.6,292.2 349.6,292.3 350.6,292.4 351.6,292.6 352.6,292.7 353.6,292.9 354.6,293.0 355.6,293.1 356.6,293.3 357.5,293.4 358.5,293.6 359.5,293.7 360.5,293.8 361.5,294.0 362.5,294.1 363.5,294.3 364.5,294.4" stroke="#0a820a" stroke-width="1" fill="none"/>
<g fill="none" stroke="#0a820a" stroke-width="1.05"><circle cx="171.2" cy="291.6" r="1.7"/><circle cx="175.0" cy="288.8" r="1.7"/><circle cx="177.8" cy="288.6" r="1.7"/><circle cx="181.2" cy="287.2" r="1.7"/><circle cx="184.8" cy="288.7" r="1.7"/><circle cx="187.6" cy="286.3" r="1.7"/><circle cx="190.3" cy="284.1" r="1.7"/><circle cx="193.5" cy="283.1" r="1.7"/><circle cx="196.8" cy="281.1" r="1.7"/><circle cx="198.8" cy="281.5" r="1.7"/><circle cx="202.0" cy="277.4" r="1.7"/><circle cx="204.8" cy="275.2" r="1.7"/><circle cx="207.4" cy="276.0" r="1.7"/><circle cx="210.4" cy="273.2" r="1.7"/><circle cx="212.4" cy="270.2" r="1.7"/><circle cx="215.0" cy="269.4" r="1.7"/><circle cx="218.0" cy="267.5" r="1.7"/><circle cx="220.5" cy="264.0" r="1.7"/><circle cx="223.8" cy="264.4" r="1.7"/><circle cx="226.7" cy="262.4" r="1.7"/><circle cx="229.9" cy="261.6" r="1.7"/><circle cx="232.4" cy="261.9" r="1.7"/><circle cx="235.6" cy="261.9" r="1.7"/><circle cx="238.2" cy="264.1" r="1.7"/><circle cx="241.3" cy="266.9" r="1.7"/><circle cx="244.8" cy="267.9" r="1.7"/><circle cx="247.5" cy="271.2" r="1.7"/><circle cx="250.2" cy="271.5" r="1.7"/><circle cx="251.9" cy="273.3" r="1.7"/><circle cx="254.3" cy="275.5" r="1.7"/><circle cx="257.1" cy="279.7" r="1.7"/><circle cx="259.8" cy="280.7" r="1.7"/><circle cx="262.0" cy="283.9" r="1.7"/><circle cx="263.9" cy="285.7" r="1.7"/><circle cx="267.3" cy="288.1" r="1.7"/><circle cx="269.9" cy="289.1" r="1.7"/><circle cx="272.2" cy="291.5" r="1.7"/><circle cx="275.3" cy="293.1" r="1.7"/><circle cx="278.9" cy="293.3" r="1.7"/><circle cx="281.4" cy="296.1" r="1.7"/><circle cx="284.8" cy="295.0" r="1.7"/><circle cx="287.4" cy="295.8" r="1.7"/><circle cx="291.5" cy="297.9" r="1.7"/><circle cx="294.0" cy="297.8" r="1.7"/><circle cx="298.1" cy="296.9" r="1.7"/><circle cx="300.8" cy="296.0" r="1.7"/><circle cx="303.8" cy="293.8" r="1.7"/><circle cx="307.8" cy="294.8" r="1.7"/><circle cx="310.6" cy="294.9" r="1.7"/><circle cx="313.7" cy="294.0" r="1.7"/><circle cx="317.4" cy="291.6" r="1.7"/><circle cx="320.0" cy="291.3" r="1.7"/><circle cx="323.3" cy="291.8" r="1.7"/><circle cx="326.6" cy="291.0" r="1.7"/><circle cx="329.8" cy="292.2" r="1.7"/><circle cx="333.3" cy="290.8" r="1.7"/><circle cx="336.8" cy="292.2" r="1.7"/><circle cx="340.0" cy="292.4" r="1.7"/><circle cx="343.3" cy="291.6" r="1.7"/><circle cx="346.6" cy="290.6" r="1.7"/><circle cx="349.8" cy="291.5" r="1.7"/><circle cx="352.7" cy="293.6" r="1.7"/><circle cx="356.1" cy="293.2" r="1.7"/><circle cx="359.9" cy="293.9" r="1.7"/><circle cx="362.8" cy="294.2" r="1.7"/><circle cx="215.5" cy="263.0" r="1.7"/><circle cx="218.5" cy="261.0" r="1.7"/><circle cx="221.5" cy="259.5" r="1.7"/><circle cx="224.5" cy="258.0" r="1.7"/><circle cx="227.5" cy="256.5" r="1.7"/><circle cx="230.5" cy="255.0" r="1.7"/><circle cx="233.2" cy="253.4" r="1.7"/><circle cx="221.0" cy="266.0" r="1.7"/><circle cx="224.0" cy="266.5" r="1.7"/></g>
<path d="M170.7,277.1 171.7,277.0 172.7,276.8 173.7,276.7 174.7,276.6 175.7,276.4 176.7,276.3 177.7,276.2 178.6,276.1 179.6,275.9 180.6,275.8 181.6,275.6 182.6,275.5 183.6,275.3 184.6,275.2 185.6,275.0 186.6,274.8 187.5,274.6 188.5,274.4 189.5,274.2 190.5,273.9 191.4,273.7 192.4,273.4 193.4,273.1 194.3,272.8 195.3,272.5 196.2,272.2 197.2,271.8 198.1,271.5 199.0,271.1 199.9,270.6 200.8,270.2 201.7,269.8 202.6,269.3 203.5,268.8 204.3,268.3 205.2,267.7 206.0,267.2 206.8,266.6 207.7,266.1 208.5,265.5 209.3,264.9 210.1,264.3 210.8,263.6 211.6,263.0 212.4,262.4 213.2,261.7 213.9,261.1 214.7,260.4 215.4,259.8 216.2,259.1 216.9,258.4 217.7,257.7 218.4,257.0 219.1,256.3 219.8,255.6 220.5,254.9 221.1,254.1 221.8,253.3 222.4,252.6 223.0,251.8 223.6,251.0 224.2,250.2 224.9,249.4 225.5,248.7 226.2,247.9 226.9,247.2 227.6,246.5 228.3,245.8 229.0,245.1 229.8,244.5 230.6,243.8 231.4,243.2 232.2,242.7 233.1,242.3 234.0,241.9 234.9,241.7 235.9,241.5 236.9,241.5 237.8,241.6 238.8,241.8 239.8,242.0 240.7,242.3 241.6,242.7 242.6,243.1 243.5,243.5 244.3,244.0 245.2,244.5 246.0,245.0 246.9,245.6 247.7,246.2 248.5,246.8 249.2,247.5 250.0,248.1 250.7,248.8 251.4,249.5 252.1,250.2 252.8,251.0 253.5,251.7 254.2,252.4 254.8,253.2 255.5,253.9 256.2,254.7 256.9,255.4 257.6,256.1 258.3,256.8 259.0,257.6 259.7,258.3 260.4,259.0 261.1,259.7 261.8,260.4 262.5,261.1 263.2,261.8 263.9,262.6 264.6,263.3 265.3,264.0 266.0,264.7 266.7,265.4 267.4,266.1 268.1,266.8 268.8,267.5 269.5,268.2 270.3,268.9 271.0,269.6 271.7,270.3 272.4,271.0 273.1,271.7 273.8,272.4 274.6,273.1 275.3,273.8 276.0,274.5 276.7,275.2 277.5,275.9 278.2,276.6 279.0,277.2 279.7,277.9 280.4,278.6 281.2,279.3 281.9,279.9 282.6,280.6 283.4,281.3 284.1,282.0 284.9,282.6 285.6,283.3 286.4,283.9 287.2,284.6 287.9,285.2 288.7,285.9 289.5,286.5 290.3,287.1 291.1,287.6 291.9,288.2 292.8,288.7 293.7,289.1 294.6,289.4 295.5,289.5 296.5,289.6 297.5,289.5 298.5,289.4 299.5,289.3 300.5,289.1 301.5,288.9 302.4,288.7 303.4,288.5 304.4,288.2 305.4,288.0 306.3,287.7 307.3,287.5 308.3,287.2 309.2,287.0 310.2,286.7 311.2,286.5 312.1,286.2 313.1,285.9 314.1,285.7 315.0,285.4 316.0,285.2 317.0,285.0 318.0,284.7 318.9,284.5 319.9,284.3 320.9,284.1 321.9,283.8 322.8,283.6 323.8,283.4 324.8,283.2 325.8,283.0 326.8,282.7 327.7,282.5 328.7,282.3 329.7,282.1 330.7,281.9 331.7,281.7 332.7,281.6 333.6,281.4 334.6,281.2 335.6,281.1 336.6,280.9 337.6,280.8 338.6,280.6 339.6,280.5 340.6,280.4 341.6,280.2 342.6,280.1 343.6,280.0 344.6,279.9 345.6,279.8 346.6,279.7 347.5,279.6 348.5,279.5 349.5,279.4 350.5,279.2 351.5,279.1 352.5,279.1 353.5,279.0 354.5,278.9 355.5,278.8 356.5,278.7 357.5,278.6 358.5,278.5 359.5,278.4 360.5,278.3 361.5,278.2 362.5,278.1 363.5,278.0 364.5,277.9" stroke="#7d0a0a" stroke-width="1" fill="none"/>
<g fill="none" stroke="#7d0a0a" stroke-width="1.05"><circle cx="171.7" cy="277.8" r="1.7"/><circle cx="174.6" cy="276.7" r="1.7"/><circle cx="178.0" cy="275.5" r="1.7"/><circle cx="181.8" cy="275.7" r="1.7"/><circle cx="184.8" cy="275.9" r="1.7"/><circle cx="188.4" cy="274.4" r="1.7"/><circle cx="191.3" cy="273.8" r="1.7"/><circle cx="194.4" cy="273.4" r="1.7"/><circle cx="197.4" cy="271.8" r="1.7"/><circle cx="200.5" cy="271.6" r="1.7"/><circle cx="203.6" cy="269.9" r="1.7"/><circle cx="206.7" cy="266.4" r="1.7"/><circle cx="209.0" cy="266.4" r="1.7"/><circle cx="211.8" cy="262.1" r="1.7"/><circle cx="213.6" cy="260.9" r="1.7"/><circle cx="216.1" cy="258.1" r="1.7"/><circle cx="218.5" cy="257.1" r="1.7"/><circle cx="221.4" cy="255.3" r="1.7"/><circle cx="222.8" cy="252.2" r="1.7"/><circle cx="225.3" cy="247.9" r="1.7"/><circle cx="227.8" cy="247.9" r="1.7"/><circle cx="229.6" cy="245.6" r="1.7"/><circle cx="232.4" cy="242.3" r="1.7"/><circle cx="236.1" cy="242.2" r="1.7"/><circle cx="238.5" cy="241.5" r="1.7"/><circle cx="242.0" cy="242.3" r="1.7"/><circle cx="244.6" cy="243.8" r="1.7"/><circle cx="247.9" cy="244.7" r="1.7"/><circle cx="250.2" cy="248.1" r="1.7"/><circle cx="252.0" cy="250.1" r="1.7"/><circle cx="254.8" cy="253.1" r="1.7"/><circle cx="256.5" cy="256.8" r="1.7"/><circle cx="259.5" cy="259.2" r="1.7"/><circle cx="261.1" cy="259.5" r="1.7"/><circle cx="263.4" cy="263.3" r="1.7"/><circle cx="265.9" cy="263.8" r="1.7"/><circle cx="268.4" cy="268.4" r="1.7"/><circle cx="271.2" cy="268.9" r="1.7"/><circle cx="272.9" cy="273.0" r="1.7"/><circle cx="275.7" cy="274.7" r="1.7"/><circle cx="277.6" cy="275.1" r="1.7"/><circle cx="280.6" cy="278.4" r="1.7"/><circle cx="282.4" cy="282.1" r="1.7"/><circle cx="285.5" cy="283.9" r="1.7"/><circle cx="287.4" cy="286.2" r="1.7"/><circle cx="290.0" cy="288.2" r="1.7"/><circle cx="293.1" cy="288.7" r="1.7"/><circle cx="296.4" cy="290.9" r="1.7"/><circle cx="299.3" cy="288.3" r="1.7"/><circle cx="302.8" cy="287.9" r="1.7"/><circle cx="305.6" cy="286.9" r="1.7"/><circle cx="308.7" cy="286.2" r="1.7"/><circle cx="312.2" cy="285.6" r="1.7"/><circle cx="315.8" cy="284.7" r="1.7"/><circle cx="318.8" cy="283.6" r="1.7"/><circle cx="321.8" cy="282.5" r="1.7"/><circle cx="325.0" cy="281.7" r="1.7"/><circle cx="328.7" cy="282.5" r="1.7"/><circle cx="331.4" cy="281.7" r="1.7"/><circle cx="335.4" cy="280.1" r="1.7"/><circle cx="338.5" cy="280.5" r="1.7"/><circle cx="341.5" cy="281.2" r="1.7"/><circle cx="344.6" cy="279.9" r="1.7"/><circle cx="348.2" cy="280.9" r="1.7"/><circle cx="351.1" cy="280.1" r="1.7"/><circle cx="354.8" cy="279.2" r="1.7"/><circle cx="357.8" cy="278.1" r="1.7"/><circle cx="360.7" cy="277.2" r="1.7"/></g>
<path d="M170.7,263.2 171.7,263.1 172.7,263.1 173.7,263.0 174.7,263.0 175.7,262.9 176.7,262.8 177.7,262.8 178.7,262.7 179.7,262.7 180.7,262.6 181.7,262.5 182.7,262.4 183.7,262.3 184.7,262.2 185.7,262.0 186.7,261.9 187.7,261.7 188.6,261.5 189.6,261.3 190.6,261.1 191.6,260.8 192.5,260.5 193.5,260.2 194.4,259.9 195.4,259.6 196.3,259.2 197.2,258.8 198.2,258.5 199.1,258.1 200.0,257.7 200.9,257.2 201.8,256.8 202.7,256.4 203.6,255.9 204.5,255.5 205.4,255.0 206.3,254.5 207.1,254.0 208.0,253.5 208.9,253.0 209.7,252.5 210.6,252.0 211.4,251.4 212.2,250.8 213.0,250.2 213.8,249.6 214.6,249.0 215.4,248.4 216.1,247.7 216.9,247.0 217.6,246.4 218.4,245.7 219.1,245.0 219.8,244.3 220.4,243.5 221.1,242.8 221.8,242.0 222.4,241.3 223.1,240.5 223.7,239.7 224.3,238.9 225.0,238.2 225.6,237.4 226.3,236.6 226.9,235.9 227.6,235.2 228.3,234.4 229.0,233.7 229.7,233.0 230.5,232.3 231.2,231.7 232.0,231.0 232.7,230.4 233.5,229.7 234.3,229.1 235.1,228.5 235.9,227.9 236.8,227.4 237.6,226.9 238.5,226.5 239.5,226.2 240.4,226.0 241.4,225.8 242.3,225.8 243.3,225.9 244.3,226.1 245.2,226.4 246.1,226.8 247.0,227.2 247.9,227.7 248.7,228.3 249.5,228.8 250.3,229.4 251.1,230.1 251.9,230.7 252.7,231.3 253.4,232.0 254.2,232.7 254.9,233.4 255.6,234.1 256.3,234.8 257.0,235.5 257.7,236.2 258.4,237.0 259.0,237.7 259.7,238.5 260.4,239.2 261.1,239.9 261.7,240.7 262.4,241.5 263.0,242.2 263.7,243.0 264.3,243.7 265.0,244.5 265.6,245.3 266.3,246.0 266.9,246.8 267.6,247.6 268.2,248.3 268.9,249.1 269.5,249.9 270.1,250.7 270.7,251.5 271.3,252.3 271.9,253.1 272.5,253.9 273.1,254.7 273.7,255.5 274.3,256.3 274.9,257.1 275.5,257.9 276.1,258.7 276.8,259.4 277.4,260.2 278.0,261.0 278.7,261.8 279.3,262.5 280.0,263.3 280.6,264.1 281.3,264.8 281.9,265.6 282.6,266.3 283.3,267.1 284.0,267.8 284.6,268.5 285.3,269.2 286.1,269.9 286.8,270.6 287.6,271.3 288.3,271.9 289.1,272.5 289.9,273.1 290.7,273.7 291.6,274.2 292.5,274.6 293.4,274.9 294.4,275.1 295.4,275.3 296.3,275.3 297.3,275.3 298.3,275.3 299.3,275.1 300.3,275.0 301.3,274.8 302.3,274.6 303.3,274.4 304.2,274.2 305.2,273.9 306.2,273.7 307.1,273.4 308.1,273.1 309.1,272.9 310.0,272.6 311.0,272.3 312.0,272.0 312.9,271.8 313.9,271.5 314.9,271.3 315.8,271.0 316.8,270.8 317.8,270.6 318.8,270.4 319.7,270.2 320.7,270.0 321.7,269.8 322.7,269.6 323.7,269.4 324.7,269.3 325.7,269.1 326.7,269.0 327.7,268.8 328.6,268.7 329.6,268.6 330.6,268.4 331.6,268.3 332.6,268.2 333.6,268.0 334.6,267.9 335.6,267.8 336.6,267.7 337.6,267.5 338.6,267.4 339.6,267.3 340.6,267.2 341.6,267.1 342.6,267.0 343.6,266.8 344.6,266.7 345.6,266.6 346.6,266.5 347.6,266.4 348.6,266.3 349.5,266.2 350.5,266.1 351.5,266.0 352.5,265.9 353.5,265.8 354.5,265.6 355.5,265.5 356.5,265.4 357.5,265.3 358.5,265.2 359.5,265.1 360.5,265.0 361.5,264.9 362.5,264.8 363.5,264.7 364.5,264.6" stroke="#0c0cae" stroke-width="1" fill="none"/>
<g fill="none" stroke="#0c0cae" stroke-width="1.05"><circle cx="171.3" cy="263.8" r="1.7"/><circle cx="174.7" cy="262.0" r="1.7"/><circle cx="177.9" cy="263.7" r="1.7"/><circle cx="181.9" cy="263.0" r="1.7"/><circle cx="184.6" cy="261.5" r="1.7"/><circle cx="187.9" cy="261.6" r="1.7"/><circle cx="191.0" cy="260.8" r="1.7"/><circle cx="194.2" cy="261.2" r="1.7"/><circle cx="198.0" cy="258.9" r="1.7"/><circle cx="200.3" cy="258.7" r="1.7"/><circle cx="203.4" cy="255.6" r="1.7"/><circle cx="206.0" cy="254.1" r="1.7"/><circle cx="209.3" cy="252.8" r="1.7"/><circle cx="211.8" cy="251.0" r="1.7"/><circle cx="214.2" cy="248.3" r="1.7"/><circle cx="216.8" cy="246.5" r="1.7"/><circle cx="219.1" cy="243.2" r="1.7"/><circle cx="221.6" cy="241.3" r="1.7"/><circle cx="224.0" cy="239.6" r="1.7"/><circle cx="226.2" cy="237.4" r="1.7"/><circle cx="228.4" cy="235.6" r="1.7"/><circle cx="230.4" cy="231.7" r="1.7"/><circle cx="233.5" cy="229.1" r="1.7"/><circle cx="235.9" cy="228.4" r="1.7"/><circle cx="238.0" cy="227.3" r="1.7"/><circle cx="242.0" cy="226.0" r="1.7"/><circle cx="245.1" cy="227.0" r="1.7"/><circle cx="247.5" cy="227.6" r="1.7"/><circle cx="250.5" cy="230.5" r="1.7"/><circle cx="253.4" cy="232.5" r="1.7"/><circle cx="255.5" cy="235.0" r="1.7"/><circle cx="257.9" cy="236.8" r="1.7"/><circle cx="259.7" cy="237.4" r="1.7"/><circle cx="261.8" cy="240.8" r="1.7"/><circle cx="263.9" cy="244.6" r="1.7"/><circle cx="266.5" cy="246.6" r="1.7"/><circle cx="268.7" cy="249.2" r="1.7"/><circle cx="270.6" cy="249.9" r="1.7"/><circle cx="272.9" cy="254.7" r="1.7"/><circle cx="274.5" cy="256.7" r="1.7"/><circle cx="276.7" cy="258.0" r="1.7"/><circle cx="278.9" cy="261.0" r="1.7"/><circle cx="280.4" cy="263.6" r="1.7"/><circle cx="283.2" cy="265.9" r="1.7"/><circle cx="285.5" cy="270.5" r="1.7"/><circle cx="287.6" cy="271.1" r="1.7"/><circle cx="290.2" cy="274.0" r="1.7"/><circle cx="293.4" cy="275.4" r="1.7"/><circle cx="296.5" cy="274.3" r="1.7"/><circle cx="299.3" cy="274.5" r="1.7"/><circle cx="303.1" cy="274.0" r="1.7"/><circle cx="306.1" cy="272.3" r="1.7"/><circle cx="308.8" cy="272.2" r="1.7"/><circle cx="312.6" cy="272.4" r="1.7"/><circle cx="315.8" cy="270.5" r="1.7"/><circle cx="318.8" cy="270.2" r="1.7"/><circle cx="322.0" cy="268.6" r="1.7"/><circle cx="325.7" cy="268.3" r="1.7"/><circle cx="329.1" cy="269.9" r="1.7"/><circle cx="331.4" cy="268.1" r="1.7"/><circle cx="335.5" cy="269.2" r="1.7"/><circle cx="338.4" cy="266.8" r="1.7"/><circle cx="341.4" cy="268.3" r="1.7"/><circle cx="344.7" cy="266.9" r="1.7"/><circle cx="347.9" cy="266.4" r="1.7"/><circle cx="352.0" cy="264.9" r="1.7"/><circle cx="355.1" cy="265.6" r="1.7"/><circle cx="358.5" cy="265.8" r="1.7"/><circle cx="361.1" cy="266.0" r="1.7"/></g>
<path d="M170.7,250.6 171.7,250.4 172.7,250.2 173.6,250.0 174.6,249.8 175.6,249.6 176.6,249.5 177.6,249.3 178.6,249.1 179.5,248.9 180.5,248.7 181.5,248.5 182.5,248.3 183.4,248.0 184.4,247.8 185.4,247.6 186.4,247.4 187.3,247.1 188.3,246.9 189.3,246.6 190.2,246.3 191.2,246.0 192.1,245.7 193.1,245.4 194.0,245.1 195.0,244.8 195.9,244.4 196.9,244.1 197.8,243.7 198.7,243.4 199.7,243.0 200.6,242.6 201.5,242.2 202.4,241.8 203.3,241.4 204.2,241.0 205.1,240.5 206.0,240.1 206.9,239.6 207.7,239.1 208.6,238.5 209.4,238.0 210.3,237.4 211.1,236.8 211.9,236.2 212.6,235.6 213.4,235.0 214.2,234.3 214.9,233.6 215.6,233.0 216.4,232.3 217.1,231.6 217.8,230.9 218.5,230.2 219.2,229.5 219.9,228.7 220.5,228.0 221.2,227.2 221.9,226.5 222.5,225.7 223.2,225.0 223.8,224.2 224.4,223.4 225.1,222.7 225.7,221.9 226.4,221.1 227.0,220.4 227.7,219.6 228.3,218.9 229.0,218.1 229.7,217.4 230.4,216.7 231.1,215.9 231.8,215.2 232.5,214.5 233.2,213.8 233.9,213.1 234.6,212.4 235.3,211.7 236.1,211.0 236.8,210.4 237.6,209.7 238.3,209.0 239.1,208.4 239.8,207.8 240.6,207.3 241.5,206.8 242.3,206.6 243.2,206.5 244.0,206.7 244.9,207.0 245.7,207.5 246.5,208.1 247.3,208.7 248.0,209.3 248.8,210.0 249.6,210.6 250.4,211.2 251.2,211.7 252.1,212.2 252.9,212.8 253.8,213.3 254.6,213.8 255.4,214.4 256.2,215.0 256.9,215.7 257.6,216.4 258.3,217.2 258.9,218.0 259.4,218.8 260.0,219.6 260.5,220.5 261.0,221.4 261.4,222.2 261.9,223.1 262.3,224.0 262.8,224.9 263.2,225.8 263.7,226.7 264.1,227.6 264.6,228.5 265.0,229.4 265.5,230.3 265.9,231.2 266.4,232.0 266.9,232.9 267.4,233.8 267.9,234.7 268.4,235.5 268.9,236.4 269.4,237.3 269.9,238.1 270.4,239.0 270.9,239.9 271.4,240.7 271.9,241.6 272.4,242.4 272.9,243.3 273.5,244.1 274.0,245.0 274.6,245.8 275.1,246.6 275.7,247.5 276.3,248.3 276.9,249.1 277.5,249.9 278.1,250.7 278.7,251.4 279.3,252.2 280.0,253.0 280.6,253.7 281.3,254.5 282.0,255.2 282.7,255.9 283.4,256.6 284.1,257.3 284.8,258.0 285.6,258.7 286.3,259.4 287.1,260.0 287.9,260.6 288.7,261.2 289.5,261.8 290.3,262.3 291.2,262.8 292.1,263.2 293.0,263.5 294.0,263.8 294.9,263.9 295.9,264.0 296.9,264.0 297.9,263.9 298.9,263.8 299.9,263.7 300.9,263.5 301.8,263.3 302.8,263.1 303.8,262.8 304.8,262.6 305.7,262.4 306.7,262.1 307.7,261.9 308.6,261.6 309.6,261.3 310.6,261.1 311.5,260.8 312.5,260.6 313.5,260.3 314.4,260.0 315.4,259.8 316.4,259.5 317.3,259.3 318.3,259.1 319.3,258.8 320.3,258.6 321.2,258.4 322.2,258.2 323.2,258.0 324.2,257.8 325.2,257.6 326.1,257.4 327.1,257.2 328.1,257.0 329.1,256.9 330.1,256.7 331.0,256.5 332.0,256.3 333.0,256.1 334.0,255.9 335.0,255.7 336.0,255.6 336.9,255.4 337.9,255.2 338.9,255.0 339.9,254.8 340.9,254.7 341.9,254.5 342.8,254.3 343.8,254.1 344.8,253.9 345.8,253.8 346.8,253.6 347.8,253.4 348.7,253.2 349.7,253.0 350.7,252.9 351.7,252.7 352.7,252.5 353.7,252.3 354.7,252.2 355.6,252.0 356.6,251.8 357.6,251.6 358.6,251.5 359.6,251.3 360.6,251.1 361.5,250.9 362.5,250.8 363.5,250.6 364.5,250.4" stroke="#ff8418" stroke-width="1" fill="none"/>
<g fill="none" stroke="#ff8418" stroke-width="1.05"><circle cx="171.7" cy="249.1" r="1.7"/><circle cx="174.4" cy="249.8" r="1.7"/><circle cx="178.1" cy="248.6" r="1.7"/><circle cx="181.0" cy="248.1" r="1.7"/><circle cx="184.4" cy="248.7" r="1.7"/><circle cx="187.3" cy="247.7" r="1.7"/><circle cx="191.3" cy="245.0" r="1.7"/><circle cx="194.6" cy="245.7" r="1.7"/><circle cx="197.6" cy="243.4" r="1.7"/><circle cx="200.2" cy="242.5" r="1.7"/><circle cx="203.8" cy="241.7" r="1.7"/><circle cx="206.1" cy="239.7" r="1.7"/><circle cx="208.9" cy="237.0" r="1.7"/><circle cx="211.4" cy="237.3" r="1.7"/><circle cx="214.1" cy="235.4" r="1.7"/><circle cx="216.5" cy="231.3" r="1.7"/><circle cx="219.1" cy="228.8" r="1.7"/><circle cx="221.2" cy="228.5" r="1.7"/><circle cx="223.8" cy="225.5" r="1.7"/><circle cx="225.7" cy="223.3" r="1.7"/><circle cx="228.1" cy="219.7" r="1.7"/><circle cx="230.1" cy="215.9" r="1.7"/><circle cx="232.4" cy="214.7" r="1.7"/><circle cx="234.8" cy="212.9" r="1.7"/><circle cx="236.7" cy="209.0" r="1.7"/><circle cx="239.8" cy="207.0" r="1.7"/><circle cx="242.0" cy="205.7" r="1.7"/><circle cx="244.8" cy="207.5" r="1.7"/><circle cx="248.0" cy="208.3" r="1.7"/><circle cx="250.2" cy="210.5" r="1.7"/><circle cx="253.0" cy="212.4" r="1.7"/><circle cx="255.4" cy="213.5" r="1.7"/><circle cx="257.8" cy="217.9" r="1.7"/><circle cx="259.9" cy="218.7" r="1.7"/><circle cx="261.9" cy="223.8" r="1.7"/><circle cx="263.0" cy="224.3" r="1.7"/><circle cx="264.2" cy="227.2" r="1.7"/><circle cx="265.8" cy="230.1" r="1.7"/><circle cx="267.3" cy="233.4" r="1.7"/><circle cx="269.3" cy="238.1" r="1.7"/><circle cx="271.1" cy="239.6" r="1.7"/><circle cx="272.4" cy="242.8" r="1.7"/><circle cx="274.2" cy="245.0" r="1.7"/><circle cx="275.7" cy="247.6" r="1.7"/><circle cx="278.6" cy="249.8" r="1.7"/><circle cx="280.3" cy="253.7" r="1.7"/><circle cx="282.9" cy="255.0" r="1.7"/><circle cx="284.6" cy="257.4" r="1.7"/><circle cx="287.2" cy="260.1" r="1.7"/><circle cx="290.5" cy="263.2" r="1.7"/><circle cx="293.3" cy="262.4" r="1.7"/><circle cx="295.7" cy="264.7" r="1.7"/><circle cx="299.9" cy="263.7" r="1.7"/><circle cx="302.8" cy="261.7" r="1.7"/><circle cx="305.8" cy="263.5" r="1.7"/><circle cx="309.4" cy="262.5" r="1.7"/><circle cx="312.7" cy="259.9" r="1.7"/><circle cx="315.1" cy="258.8" r="1.7"/><circle cx="318.7" cy="259.5" r="1.7"/><circle cx="322.3" cy="258.9" r="1.7"/><circle cx="325.3" cy="258.4" r="1.7"/><circle cx="328.3" cy="257.1" r="1.7"/><circle cx="331.1" cy="257.2" r="1.7"/><circle cx="334.6" cy="256.9" r="1.7"/><circle cx="338.2" cy="254.6" r="1.7"/><circle cx="341.0" cy="253.9" r="1.7"/><circle cx="344.7" cy="254.5" r="1.7"/><circle cx="347.4" cy="252.2" r="1.7"/><circle cx="351.1" cy="253.0" r="1.7"/><circle cx="354.2" cy="251.4" r="1.7"/><circle cx="357.7" cy="250.3" r="1.7"/><circle cx="360.6" cy="250.9" r="1.7"/><circle cx="233.0" cy="208.0" r="1.7"/><circle cx="248.5" cy="201.5" r="1.7"/><circle cx="251.0" cy="203.5" r="1.7"/><circle cx="256.0" cy="211.5" r="1.7"/></g>
<path d="M403.9,201.1H445.3" stroke="#ff1010" stroke-width="2.1"/>
<text x="449.5" y="207.4" font-size="20">Au foil</text>
<path d="M403.9,226.5H445.3" stroke="#0a820a" stroke-width="2.1"/>
<text x="449.5" y="232.8" font-size="20">Au<tspan font-size="13" dy="5">101</tspan></text>
<path d="M403.9,255.7H445.3" stroke="#7d0a0a" stroke-width="2.1"/>
<text x="449.5" y="262.0" font-size="20">Au<tspan font-size="13" dy="5">13</tspan></text>
<path d="M403.9,285.3H445.3" stroke="#0c0cae" stroke-width="2.1"/>
<text x="449.5" y="291.6" font-size="20">Au<tspan font-size="13" dy="5">9</tspan></text>
<path d="M403.9,314.7H445.3" stroke="#ff8418" stroke-width="2.1"/>
<text x="449.5" y="321.0" font-size="20">Au<tspan font-size="13" dy="5">6</tspan></text>
</svg></body></html>
